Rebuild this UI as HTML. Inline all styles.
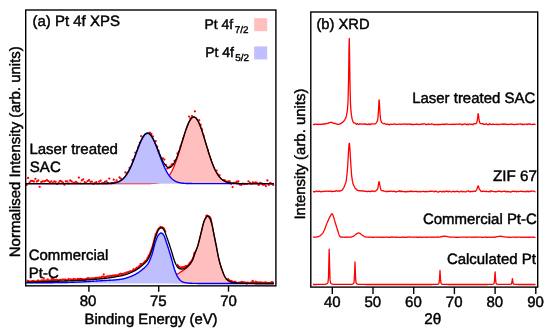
<!DOCTYPE html>
<html><head><meta charset="utf-8"><style>
html,body{margin:0;padding:0;background:#fff;width:550px;height:330px;overflow:hidden}
svg{display:block;will-change:transform}
text{font-family:"Liberation Sans", sans-serif;stroke:#000;stroke-width:0.45px;text-rendering:geometricPrecision}
</style></head><body><svg width="550" height="330" viewBox="0 0 550 330" font-family='"Liberation Sans", sans-serif' font-size="15.2" fill="#000"><g fill="#ff0000"><circle cx="26.7" cy="184.9" r="1.15"/><circle cx="28.1" cy="178.0" r="1.15"/><circle cx="29.6" cy="182.4" r="1.15"/><circle cx="31.0" cy="180.9" r="1.15"/><circle cx="32.5" cy="181.1" r="1.15"/><circle cx="33.9" cy="181.5" r="1.15"/><circle cx="35.4" cy="178.8" r="1.15"/><circle cx="36.8" cy="181.5" r="1.15"/><circle cx="38.3" cy="180.5" r="1.15"/><circle cx="39.7" cy="186.8" r="1.15"/><circle cx="41.2" cy="182.1" r="1.15"/><circle cx="42.6" cy="181.3" r="1.15"/><circle cx="44.1" cy="181.4" r="1.15"/><circle cx="45.5" cy="180.8" r="1.15"/><circle cx="47.0" cy="180.2" r="1.15"/><circle cx="48.4" cy="181.2" r="1.15"/><circle cx="49.9" cy="182.5" r="1.15"/><circle cx="51.3" cy="181.4" r="1.15"/><circle cx="52.8" cy="183.2" r="1.15"/><circle cx="54.2" cy="181.5" r="1.15"/><circle cx="55.7" cy="181.8" r="1.15"/><circle cx="57.1" cy="184.1" r="1.15"/><circle cx="58.6" cy="182.6" r="1.15"/><circle cx="60.0" cy="181.0" r="1.15"/><circle cx="61.5" cy="181.5" r="1.15"/><circle cx="62.9" cy="182.6" r="1.15"/><circle cx="64.4" cy="184.7" r="1.15"/><circle cx="65.8" cy="181.4" r="1.15"/><circle cx="67.3" cy="181.4" r="1.15"/><circle cx="68.7" cy="183.3" r="1.15"/><circle cx="70.2" cy="180.5" r="1.15"/><circle cx="71.6" cy="181.4" r="1.15"/><circle cx="73.1" cy="183.1" r="1.15"/><circle cx="74.5" cy="182.7" r="1.15"/><circle cx="76.0" cy="181.9" r="1.15"/><circle cx="77.4" cy="182.8" r="1.15"/><circle cx="78.9" cy="177.6" r="1.15"/><circle cx="80.3" cy="183.3" r="1.15"/><circle cx="81.8" cy="180.4" r="1.15"/><circle cx="83.2" cy="179.3" r="1.15"/><circle cx="84.7" cy="182.2" r="1.15"/><circle cx="86.1" cy="182.9" r="1.15"/><circle cx="87.6" cy="181.1" r="1.15"/><circle cx="89.0" cy="180.2" r="1.15"/><circle cx="90.5" cy="181.8" r="1.15"/><circle cx="91.9" cy="181.7" r="1.15"/><circle cx="93.4" cy="183.9" r="1.15"/><circle cx="94.8" cy="182.9" r="1.15"/><circle cx="96.3" cy="182.2" r="1.15"/><circle cx="97.7" cy="183.6" r="1.15"/><circle cx="99.2" cy="181.7" r="1.15"/><circle cx="100.6" cy="180.7" r="1.15"/><circle cx="102.1" cy="183.1" r="1.15"/><circle cx="103.5" cy="183.2" r="1.15"/><circle cx="105.0" cy="182.0" r="1.15"/><circle cx="106.4" cy="181.2" r="1.15"/><circle cx="107.9" cy="182.8" r="1.15"/><circle cx="109.3" cy="178.6" r="1.15"/><circle cx="110.8" cy="183.6" r="1.15"/><circle cx="112.2" cy="183.2" r="1.15"/><circle cx="113.7" cy="179.7" r="1.15"/><circle cx="115.1" cy="182.3" r="1.15"/><circle cx="116.6" cy="180.3" r="1.15"/><circle cx="118.0" cy="182.8" r="1.15"/><circle cx="119.5" cy="177.5" r="1.15"/><circle cx="120.9" cy="178.6" r="1.15"/><circle cx="122.4" cy="180.4" r="1.15"/><circle cx="123.8" cy="180.0" r="1.15"/><circle cx="125.3" cy="172.3" r="1.15"/><circle cx="126.7" cy="173.3" r="1.15"/><circle cx="128.2" cy="172.5" r="1.15"/><circle cx="129.6" cy="167.9" r="1.15"/><circle cx="131.1" cy="169.3" r="1.15"/><circle cx="132.5" cy="160.1" r="1.15"/><circle cx="134.0" cy="159.7" r="1.15"/><circle cx="135.4" cy="152.7" r="1.15"/><circle cx="136.9" cy="154.3" r="1.15"/><circle cx="138.3" cy="147.2" r="1.15"/><circle cx="139.8" cy="142.8" r="1.15"/><circle cx="141.2" cy="136.2" r="1.15"/><circle cx="142.7" cy="141.6" r="1.15"/><circle cx="144.1" cy="137.2" r="1.15"/><circle cx="145.6" cy="135.7" r="1.15"/><circle cx="147.0" cy="136.0" r="1.15"/><circle cx="148.5" cy="134.2" r="1.15"/><circle cx="149.9" cy="132.7" r="1.15"/><circle cx="151.4" cy="134.0" r="1.15"/><circle cx="152.8" cy="136.4" r="1.15"/><circle cx="154.3" cy="144.5" r="1.15"/><circle cx="155.7" cy="141.1" r="1.15"/><circle cx="157.2" cy="146.7" r="1.15"/><circle cx="158.6" cy="150.9" r="1.15"/><circle cx="160.1" cy="155.6" r="1.15"/><circle cx="161.5" cy="159.5" r="1.15"/><circle cx="163.0" cy="158.3" r="1.15"/><circle cx="164.4" cy="159.6" r="1.15"/><circle cx="165.9" cy="164.9" r="1.15"/><circle cx="167.3" cy="168.4" r="1.15"/><circle cx="168.8" cy="167.8" r="1.15"/><circle cx="170.2" cy="166.5" r="1.15"/><circle cx="171.7" cy="164.5" r="1.15"/><circle cx="173.1" cy="164.2" r="1.15"/><circle cx="174.6" cy="160.9" r="1.15"/><circle cx="176.0" cy="160.4" r="1.15"/><circle cx="177.5" cy="153.5" r="1.15"/><circle cx="178.9" cy="151.6" r="1.15"/><circle cx="180.4" cy="146.8" r="1.15"/><circle cx="181.8" cy="143.8" r="1.15"/><circle cx="183.3" cy="138.4" r="1.15"/><circle cx="184.7" cy="139.5" r="1.15"/><circle cx="186.2" cy="132.7" r="1.15"/><circle cx="187.6" cy="128.9" r="1.15"/><circle cx="189.1" cy="116.6" r="1.15"/><circle cx="190.5" cy="118.5" r="1.15"/><circle cx="192.0" cy="116.1" r="1.15"/><circle cx="193.4" cy="118.4" r="1.15"/><circle cx="194.9" cy="111.3" r="1.15"/><circle cx="196.3" cy="121.5" r="1.15"/><circle cx="197.8" cy="123.3" r="1.15"/><circle cx="199.2" cy="120.2" r="1.15"/><circle cx="200.7" cy="124.7" r="1.15"/><circle cx="202.1" cy="129.3" r="1.15"/><circle cx="203.6" cy="136.0" r="1.15"/><circle cx="205.0" cy="142.2" r="1.15"/><circle cx="206.5" cy="150.3" r="1.15"/><circle cx="207.9" cy="149.9" r="1.15"/><circle cx="209.4" cy="156.7" r="1.15"/><circle cx="210.8" cy="159.7" r="1.15"/><circle cx="212.3" cy="167.0" r="1.15"/><circle cx="213.7" cy="168.4" r="1.15"/><circle cx="215.2" cy="172.8" r="1.15"/><circle cx="216.6" cy="170.6" r="1.15"/><circle cx="218.1" cy="174.7" r="1.15"/><circle cx="219.5" cy="175.4" r="1.15"/><circle cx="221.0" cy="181.2" r="1.15"/><circle cx="222.4" cy="180.9" r="1.15"/><circle cx="223.9" cy="180.2" r="1.15"/><circle cx="225.3" cy="180.7" r="1.15"/><circle cx="226.8" cy="182.9" r="1.15"/><circle cx="228.2" cy="181.4" r="1.15"/><circle cx="229.7" cy="181.3" r="1.15"/><circle cx="231.1" cy="183.8" r="1.15"/><circle cx="232.6" cy="187.1" r="1.15"/><circle cx="234.0" cy="183.0" r="1.15"/><circle cx="235.5" cy="182.6" r="1.15"/><circle cx="236.9" cy="181.7" r="1.15"/><circle cx="238.4" cy="181.5" r="1.15"/><circle cx="239.8" cy="184.4" r="1.15"/><circle cx="241.3" cy="184.9" r="1.15"/><circle cx="242.7" cy="183.6" r="1.15"/><circle cx="244.2" cy="184.1" r="1.15"/><circle cx="245.6" cy="183.8" r="1.15"/><circle cx="247.1" cy="183.8" r="1.15"/><circle cx="248.5" cy="181.3" r="1.15"/><circle cx="250.0" cy="182.9" r="1.15"/><circle cx="251.4" cy="183.8" r="1.15"/><circle cx="252.9" cy="182.4" r="1.15"/><circle cx="254.3" cy="182.9" r="1.15"/><circle cx="255.8" cy="182.4" r="1.15"/><circle cx="257.2" cy="183.1" r="1.15"/><circle cx="258.7" cy="184.9" r="1.15"/><circle cx="260.1" cy="183.0" r="1.15"/><circle cx="261.6" cy="183.4" r="1.15"/><circle cx="263.0" cy="184.8" r="1.15"/><circle cx="264.5" cy="184.6" r="1.15"/><circle cx="265.9" cy="186.1" r="1.15"/><circle cx="267.4" cy="180.5" r="1.15"/><circle cx="268.8" cy="184.9" r="1.15"/><circle cx="270.3" cy="182.9" r="1.15"/><circle cx="271.7" cy="183.8" r="1.15"/><circle cx="273.2" cy="184.9" r="1.15"/></g><polygon fill="#ffbfbf" points="26.30,183.60 26.71,183.60 27.13,183.60 27.54,183.60 27.95,183.60 28.37,183.60 28.78,183.60 29.19,183.60 29.61,183.60 30.02,183.60 30.43,183.60 30.85,183.60 31.26,183.60 31.67,183.60 32.08,183.60 32.50,183.60 32.91,183.60 33.32,183.60 33.74,183.60 34.15,183.60 34.56,183.60 34.98,183.60 35.39,183.60 35.80,183.60 36.22,183.60 36.63,183.60 37.04,183.60 37.46,183.60 37.87,183.60 38.28,183.60 38.70,183.60 39.11,183.60 39.52,183.60 39.94,183.60 40.35,183.60 40.76,183.60 41.17,183.60 41.59,183.60 42.00,183.60 42.41,183.60 42.83,183.60 43.24,183.60 43.65,183.60 44.07,183.60 44.48,183.60 44.89,183.60 45.31,183.60 45.72,183.60 46.13,183.60 46.55,183.60 46.96,183.60 47.37,183.60 47.79,183.60 48.20,183.60 48.61,183.60 49.03,183.60 49.44,183.60 49.85,183.60 50.26,183.60 50.68,183.60 51.09,183.60 51.50,183.60 51.92,183.60 52.33,183.60 52.74,183.60 53.16,183.60 53.57,183.60 53.98,183.60 54.40,183.60 54.81,183.60 55.22,183.60 55.64,183.60 56.05,183.60 56.46,183.60 56.88,183.60 57.29,183.60 57.70,183.60 58.12,183.60 58.53,183.60 58.94,183.60 59.36,183.60 59.77,183.60 60.18,183.60 60.59,183.60 61.01,183.60 61.42,183.60 61.83,183.60 62.25,183.60 62.66,183.60 63.07,183.60 63.49,183.60 63.90,183.60 64.31,183.60 64.73,183.60 65.14,183.60 65.55,183.60 65.97,183.60 66.38,183.60 66.79,183.60 67.21,183.60 67.62,183.60 68.03,183.60 68.45,183.60 68.86,183.60 69.27,183.60 69.68,183.60 70.10,183.60 70.51,183.60 70.92,183.60 71.34,183.60 71.75,183.60 72.16,183.60 72.58,183.60 72.99,183.60 73.40,183.60 73.82,183.60 74.23,183.60 74.64,183.60 75.06,183.60 75.47,183.60 75.88,183.60 76.30,183.60 76.71,183.60 77.12,183.60 77.54,183.60 77.95,183.60 78.36,183.60 78.77,183.60 79.19,183.60 79.60,183.60 80.01,183.60 80.43,183.60 80.84,183.60 81.25,183.60 81.67,183.60 82.08,183.60 82.49,183.60 82.91,183.60 83.32,183.60 83.73,183.60 84.15,183.60 84.56,183.60 84.97,183.60 85.39,183.60 85.80,183.60 86.21,183.60 86.63,183.60 87.04,183.60 87.45,183.60 87.87,183.60 88.28,183.60 88.69,183.60 89.10,183.60 89.52,183.60 89.93,183.60 90.34,183.60 90.76,183.60 91.17,183.60 91.58,183.60 92.00,183.60 92.41,183.60 92.82,183.60 93.24,183.60 93.65,183.60 94.06,183.60 94.48,183.60 94.89,183.60 95.30,183.60 95.72,183.60 96.13,183.60 96.54,183.60 96.96,183.60 97.37,183.60 97.78,183.60 98.19,183.60 98.61,183.60 99.02,183.60 99.43,183.60 99.85,183.60 100.26,183.60 100.67,183.60 101.09,183.60 101.50,183.60 101.91,183.60 102.33,183.60 102.74,183.60 103.15,183.60 103.57,183.60 103.98,183.60 104.39,183.60 104.81,183.60 105.22,183.60 105.63,183.60 106.05,183.60 106.46,183.60 106.87,183.60 107.28,183.60 107.70,183.60 108.11,183.60 108.52,183.60 108.94,183.60 109.35,183.60 109.76,183.60 110.18,183.60 110.59,183.60 111.00,183.60 111.42,183.60 111.83,183.60 112.24,183.60 112.66,183.60 113.07,183.60 113.48,183.60 113.90,183.60 114.31,183.60 114.72,183.60 115.14,183.60 115.55,183.60 115.96,183.60 116.38,183.60 116.79,183.60 117.20,183.60 117.61,183.60 118.03,183.60 118.44,183.60 118.85,183.60 119.27,183.60 119.68,183.60 120.09,183.60 120.51,183.60 120.92,183.60 121.33,183.60 121.75,183.60 122.16,183.60 122.57,183.60 122.99,183.60 123.40,183.60 123.81,183.60 124.23,183.60 124.64,183.60 125.05,183.60 125.47,183.60 125.88,183.60 126.29,183.60 126.70,183.60 127.12,183.60 127.53,183.60 127.94,183.60 128.36,183.60 128.77,183.60 129.18,183.60 129.60,183.60 130.01,183.60 130.42,183.60 130.84,183.60 131.25,183.60 131.66,183.60 132.08,183.60 132.49,183.60 132.90,183.60 133.32,183.60 133.73,183.60 134.14,183.60 134.56,183.60 134.97,183.60 135.38,183.60 135.79,183.60 136.21,183.60 136.62,183.60 137.03,183.60 137.45,183.60 137.86,183.60 138.27,183.60 138.69,183.60 139.10,183.60 139.51,183.60 139.93,183.60 140.34,183.60 140.75,183.60 141.17,183.60 141.58,183.59 141.99,183.59 142.41,183.59 142.82,183.59 143.23,183.59 143.65,183.59 144.06,183.59 144.47,183.59 144.89,183.58 145.30,183.58 145.71,183.58 146.12,183.58 146.54,183.57 146.95,183.57 147.36,183.56 147.78,183.56 148.19,183.55 148.60,183.54 149.02,183.54 149.43,183.53 149.84,183.52 150.26,183.51 150.67,183.50 151.08,183.48 151.50,183.47 151.91,183.45 152.32,183.43 152.74,183.41 153.15,183.39 153.56,183.36 153.98,183.33 154.39,183.30 154.80,183.26 155.21,183.22 155.63,183.18 156.04,183.13 156.45,183.07 156.87,183.02 157.28,182.95 157.69,182.88 158.11,182.80 158.52,182.72 158.93,182.62 159.35,182.52 159.76,182.41 160.17,182.29 160.59,182.15 161.00,182.01 161.41,181.86 161.83,181.69 162.24,181.50 162.65,181.31 163.07,181.09 163.48,180.86 163.89,180.62 164.31,180.35 164.72,180.07 165.13,179.76 165.54,179.44 165.96,179.09 166.37,178.71 166.78,178.32 167.20,177.89 167.61,177.45 168.02,176.97 168.44,176.46 168.85,175.93 169.26,175.37 169.68,174.77 170.09,174.14 170.50,173.48 170.92,172.79 171.33,172.06 171.74,171.30 172.16,170.51 172.57,169.68 172.98,168.81 173.40,167.91 173.81,166.97 174.22,166.00 174.63,165.00 175.05,163.96 175.46,162.88 175.87,161.78 176.29,160.64 176.70,159.47 177.11,158.27 177.53,157.04 177.94,155.79 178.35,154.51 178.77,153.21 179.18,151.89 179.59,150.55 180.01,149.20 180.42,147.83 180.83,146.45 181.25,145.07 181.66,143.68 182.07,142.29 182.49,140.90 182.90,139.52 183.31,138.14 183.72,136.78 184.14,135.44 184.55,134.11 184.96,132.81 185.38,131.54 185.79,130.30 186.20,129.09 186.62,127.92 187.03,126.80 187.44,125.72 187.86,124.69 188.27,123.71 188.68,122.79 189.10,121.92 189.51,121.12 189.92,120.39 190.34,119.72 190.75,119.12 191.16,118.59 191.58,118.13 191.99,117.75 192.40,117.45 192.82,117.22 193.23,117.08 193.64,117.01 194.05,117.01 194.47,117.10 194.88,117.27 195.29,117.51 195.71,117.84 196.12,118.23 196.53,118.71 196.95,119.25 197.36,119.87 197.77,120.55 198.19,121.30 198.60,122.12 199.01,123.00 199.43,123.93 199.84,124.92 200.25,125.96 200.67,127.06 201.08,128.19 201.49,129.37 201.91,130.58 202.32,131.83 202.73,133.11 203.14,134.42 203.56,135.75 203.97,137.10 204.38,138.46 204.80,139.84 205.21,141.22 205.62,142.61 206.04,144.00 206.45,145.39 206.86,146.78 207.28,148.15 207.69,149.52 208.10,150.87 208.52,152.20 208.93,153.52 209.34,154.81 209.76,156.09 210.17,157.33 210.58,158.55 211.00,159.74 211.41,160.91 211.82,162.04 212.23,163.14 212.65,164.20 213.06,165.23 213.47,166.23 213.89,167.19 214.30,168.12 214.71,169.02 215.13,169.87 215.54,170.70 215.95,171.48 216.37,172.24 216.78,172.95 217.19,173.64 217.61,174.29 218.02,174.91 218.43,175.50 218.85,176.06 219.26,176.58 219.67,177.08 220.09,177.55 220.50,178.00 220.91,178.41 221.33,178.80 221.74,179.17 222.15,179.51 222.56,179.83 222.98,180.14 223.39,180.42 223.80,180.68 224.22,180.92 224.63,181.14 225.04,181.35 225.46,181.55 225.87,181.73 226.28,181.89 226.70,182.05 227.11,182.19 227.52,182.32 227.94,182.44 228.35,182.54 228.76,182.64 229.18,182.74 229.59,182.82 230.00,182.90 230.42,182.97 230.83,183.03 231.24,183.09 231.65,183.14 232.07,183.19 232.48,183.23 232.89,183.27 233.31,183.31 233.72,183.34 234.13,183.37 234.55,183.39 234.96,183.41 235.37,183.44 235.79,183.45 236.20,183.47 236.61,183.49 237.03,183.50 237.44,183.51 237.85,183.52 238.27,183.53 238.68,183.54 239.09,183.55 239.51,183.55 239.92,183.56 240.33,183.56 240.74,183.57 241.16,183.57 241.57,183.58 241.98,183.58 242.40,183.58 242.81,183.58 243.22,183.59 243.64,183.59 244.05,183.59 244.46,183.59 244.88,183.59 245.29,183.59 245.70,183.59 246.12,183.60 246.53,183.60 246.94,183.60 247.36,183.60 247.77,183.60 248.18,183.60 248.60,183.60 249.01,183.60 249.42,183.60 249.84,183.60 250.25,183.60 250.66,183.60 251.07,183.60 251.49,183.60 251.90,183.60 252.31,183.60 252.73,183.60 253.14,183.60 253.55,183.60 253.97,183.60 254.38,183.60 254.79,183.60 255.21,183.60 255.62,183.60 256.03,183.60 256.45,183.60 256.86,183.60 257.27,183.60 257.69,183.60 258.10,183.60 258.51,183.60 258.93,183.60 259.34,183.60 259.75,183.60 260.16,183.60 260.58,183.60 260.99,183.60 261.40,183.60 261.82,183.60 262.23,183.60 262.64,183.60 263.06,183.60 263.47,183.60 263.88,183.60 264.30,183.60 264.71,183.60 265.12,183.60 265.54,183.60 265.95,183.60 266.36,183.60 266.78,183.60 267.19,183.60 267.60,183.60 268.02,183.60 268.43,183.60 268.84,183.60 269.25,183.60 269.67,183.60 270.08,183.60 270.49,183.60 270.91,183.60 271.32,183.60 271.73,183.60 272.15,183.60 272.56,183.60 272.97,183.60 273.39,183.60 273.80,183.60 273.80,183.60 26.30,183.60"/><polyline fill="none" stroke="#ff0000" stroke-width="1.3" points="26.30,183.60 26.71,183.60 27.13,183.60 27.54,183.60 27.95,183.60 28.37,183.60 28.78,183.60 29.19,183.60 29.61,183.60 30.02,183.60 30.43,183.60 30.85,183.60 31.26,183.60 31.67,183.60 32.08,183.60 32.50,183.60 32.91,183.60 33.32,183.60 33.74,183.60 34.15,183.60 34.56,183.60 34.98,183.60 35.39,183.60 35.80,183.60 36.22,183.60 36.63,183.60 37.04,183.60 37.46,183.60 37.87,183.60 38.28,183.60 38.70,183.60 39.11,183.60 39.52,183.60 39.94,183.60 40.35,183.60 40.76,183.60 41.17,183.60 41.59,183.60 42.00,183.60 42.41,183.60 42.83,183.60 43.24,183.60 43.65,183.60 44.07,183.60 44.48,183.60 44.89,183.60 45.31,183.60 45.72,183.60 46.13,183.60 46.55,183.60 46.96,183.60 47.37,183.60 47.79,183.60 48.20,183.60 48.61,183.60 49.03,183.60 49.44,183.60 49.85,183.60 50.26,183.60 50.68,183.60 51.09,183.60 51.50,183.60 51.92,183.60 52.33,183.60 52.74,183.60 53.16,183.60 53.57,183.60 53.98,183.60 54.40,183.60 54.81,183.60 55.22,183.60 55.64,183.60 56.05,183.60 56.46,183.60 56.88,183.60 57.29,183.60 57.70,183.60 58.12,183.60 58.53,183.60 58.94,183.60 59.36,183.60 59.77,183.60 60.18,183.60 60.59,183.60 61.01,183.60 61.42,183.60 61.83,183.60 62.25,183.60 62.66,183.60 63.07,183.60 63.49,183.60 63.90,183.60 64.31,183.60 64.73,183.60 65.14,183.60 65.55,183.60 65.97,183.60 66.38,183.60 66.79,183.60 67.21,183.60 67.62,183.60 68.03,183.60 68.45,183.60 68.86,183.60 69.27,183.60 69.68,183.60 70.10,183.60 70.51,183.60 70.92,183.60 71.34,183.60 71.75,183.60 72.16,183.60 72.58,183.60 72.99,183.60 73.40,183.60 73.82,183.60 74.23,183.60 74.64,183.60 75.06,183.60 75.47,183.60 75.88,183.60 76.30,183.60 76.71,183.60 77.12,183.60 77.54,183.60 77.95,183.60 78.36,183.60 78.77,183.60 79.19,183.60 79.60,183.60 80.01,183.60 80.43,183.60 80.84,183.60 81.25,183.60 81.67,183.60 82.08,183.60 82.49,183.60 82.91,183.60 83.32,183.60 83.73,183.60 84.15,183.60 84.56,183.60 84.97,183.60 85.39,183.60 85.80,183.60 86.21,183.60 86.63,183.60 87.04,183.60 87.45,183.60 87.87,183.60 88.28,183.60 88.69,183.60 89.10,183.60 89.52,183.60 89.93,183.60 90.34,183.60 90.76,183.60 91.17,183.60 91.58,183.60 92.00,183.60 92.41,183.60 92.82,183.60 93.24,183.60 93.65,183.60 94.06,183.60 94.48,183.60 94.89,183.60 95.30,183.60 95.72,183.60 96.13,183.60 96.54,183.60 96.96,183.60 97.37,183.60 97.78,183.60 98.19,183.60 98.61,183.60 99.02,183.60 99.43,183.60 99.85,183.60 100.26,183.60 100.67,183.60 101.09,183.60 101.50,183.60 101.91,183.60 102.33,183.60 102.74,183.60 103.15,183.60 103.57,183.60 103.98,183.60 104.39,183.60 104.81,183.60 105.22,183.60 105.63,183.60 106.05,183.60 106.46,183.60 106.87,183.60 107.28,183.60 107.70,183.60 108.11,183.60 108.52,183.60 108.94,183.60 109.35,183.60 109.76,183.60 110.18,183.60 110.59,183.60 111.00,183.60 111.42,183.60 111.83,183.60 112.24,183.60 112.66,183.60 113.07,183.60 113.48,183.60 113.90,183.60 114.31,183.60 114.72,183.60 115.14,183.60 115.55,183.60 115.96,183.60 116.38,183.60 116.79,183.60 117.20,183.60 117.61,183.60 118.03,183.60 118.44,183.60 118.85,183.60 119.27,183.60 119.68,183.60 120.09,183.60 120.51,183.60 120.92,183.60 121.33,183.60 121.75,183.60 122.16,183.60 122.57,183.60 122.99,183.60 123.40,183.60 123.81,183.60 124.23,183.60 124.64,183.60 125.05,183.60 125.47,183.60 125.88,183.60 126.29,183.60 126.70,183.60 127.12,183.60 127.53,183.60 127.94,183.60 128.36,183.60 128.77,183.60 129.18,183.60 129.60,183.60 130.01,183.60 130.42,183.60 130.84,183.60 131.25,183.60 131.66,183.60 132.08,183.60 132.49,183.60 132.90,183.60 133.32,183.60 133.73,183.60 134.14,183.60 134.56,183.60 134.97,183.60 135.38,183.60 135.79,183.60 136.21,183.60 136.62,183.60 137.03,183.60 137.45,183.60 137.86,183.60 138.27,183.60 138.69,183.60 139.10,183.60 139.51,183.60 139.93,183.60 140.34,183.60 140.75,183.60 141.17,183.60 141.58,183.59 141.99,183.59 142.41,183.59 142.82,183.59 143.23,183.59 143.65,183.59 144.06,183.59 144.47,183.59 144.89,183.58 145.30,183.58 145.71,183.58 146.12,183.58 146.54,183.57 146.95,183.57 147.36,183.56 147.78,183.56 148.19,183.55 148.60,183.54 149.02,183.54 149.43,183.53 149.84,183.52 150.26,183.51 150.67,183.50 151.08,183.48 151.50,183.47 151.91,183.45 152.32,183.43 152.74,183.41 153.15,183.39 153.56,183.36 153.98,183.33 154.39,183.30 154.80,183.26 155.21,183.22 155.63,183.18 156.04,183.13 156.45,183.07 156.87,183.02 157.28,182.95 157.69,182.88 158.11,182.80 158.52,182.72 158.93,182.62 159.35,182.52 159.76,182.41 160.17,182.29 160.59,182.15 161.00,182.01 161.41,181.86 161.83,181.69 162.24,181.50 162.65,181.31 163.07,181.09 163.48,180.86 163.89,180.62 164.31,180.35 164.72,180.07 165.13,179.76 165.54,179.44 165.96,179.09 166.37,178.71 166.78,178.32 167.20,177.89 167.61,177.45 168.02,176.97 168.44,176.46 168.85,175.93 169.26,175.37 169.68,174.77 170.09,174.14 170.50,173.48 170.92,172.79 171.33,172.06 171.74,171.30 172.16,170.51 172.57,169.68 172.98,168.81 173.40,167.91 173.81,166.97 174.22,166.00 174.63,165.00 175.05,163.96 175.46,162.88 175.87,161.78 176.29,160.64 176.70,159.47 177.11,158.27 177.53,157.04 177.94,155.79 178.35,154.51 178.77,153.21 179.18,151.89 179.59,150.55 180.01,149.20 180.42,147.83 180.83,146.45 181.25,145.07 181.66,143.68 182.07,142.29 182.49,140.90 182.90,139.52 183.31,138.14 183.72,136.78 184.14,135.44 184.55,134.11 184.96,132.81 185.38,131.54 185.79,130.30 186.20,129.09 186.62,127.92 187.03,126.80 187.44,125.72 187.86,124.69 188.27,123.71 188.68,122.79 189.10,121.92 189.51,121.12 189.92,120.39 190.34,119.72 190.75,119.12 191.16,118.59 191.58,118.13 191.99,117.75 192.40,117.45 192.82,117.22 193.23,117.08 193.64,117.01 194.05,117.01 194.47,117.10 194.88,117.27 195.29,117.51 195.71,117.84 196.12,118.23 196.53,118.71 196.95,119.25 197.36,119.87 197.77,120.55 198.19,121.30 198.60,122.12 199.01,123.00 199.43,123.93 199.84,124.92 200.25,125.96 200.67,127.06 201.08,128.19 201.49,129.37 201.91,130.58 202.32,131.83 202.73,133.11 203.14,134.42 203.56,135.75 203.97,137.10 204.38,138.46 204.80,139.84 205.21,141.22 205.62,142.61 206.04,144.00 206.45,145.39 206.86,146.78 207.28,148.15 207.69,149.52 208.10,150.87 208.52,152.20 208.93,153.52 209.34,154.81 209.76,156.09 210.17,157.33 210.58,158.55 211.00,159.74 211.41,160.91 211.82,162.04 212.23,163.14 212.65,164.20 213.06,165.23 213.47,166.23 213.89,167.19 214.30,168.12 214.71,169.02 215.13,169.87 215.54,170.70 215.95,171.48 216.37,172.24 216.78,172.95 217.19,173.64 217.61,174.29 218.02,174.91 218.43,175.50 218.85,176.06 219.26,176.58 219.67,177.08 220.09,177.55 220.50,178.00 220.91,178.41 221.33,178.80 221.74,179.17 222.15,179.51 222.56,179.83 222.98,180.14 223.39,180.42 223.80,180.68 224.22,180.92 224.63,181.14 225.04,181.35 225.46,181.55 225.87,181.73 226.28,181.89 226.70,182.05 227.11,182.19 227.52,182.32 227.94,182.44 228.35,182.54 228.76,182.64 229.18,182.74 229.59,182.82 230.00,182.90 230.42,182.97 230.83,183.03 231.24,183.09 231.65,183.14 232.07,183.19 232.48,183.23 232.89,183.27 233.31,183.31 233.72,183.34 234.13,183.37 234.55,183.39 234.96,183.41 235.37,183.44 235.79,183.45 236.20,183.47 236.61,183.49 237.03,183.50 237.44,183.51 237.85,183.52 238.27,183.53 238.68,183.54 239.09,183.55 239.51,183.55 239.92,183.56 240.33,183.56 240.74,183.57 241.16,183.57 241.57,183.58 241.98,183.58 242.40,183.58 242.81,183.58 243.22,183.59 243.64,183.59 244.05,183.59 244.46,183.59 244.88,183.59 245.29,183.59 245.70,183.59 246.12,183.60 246.53,183.60 246.94,183.60 247.36,183.60 247.77,183.60 248.18,183.60 248.60,183.60 249.01,183.60 249.42,183.60 249.84,183.60 250.25,183.60 250.66,183.60 251.07,183.60 251.49,183.60 251.90,183.60 252.31,183.60 252.73,183.60 253.14,183.60 253.55,183.60 253.97,183.60 254.38,183.60 254.79,183.60 255.21,183.60 255.62,183.60 256.03,183.60 256.45,183.60 256.86,183.60 257.27,183.60 257.69,183.60 258.10,183.60 258.51,183.60 258.93,183.60 259.34,183.60 259.75,183.60 260.16,183.60 260.58,183.60 260.99,183.60 261.40,183.60 261.82,183.60 262.23,183.60 262.64,183.60 263.06,183.60 263.47,183.60 263.88,183.60 264.30,183.60 264.71,183.60 265.12,183.60 265.54,183.60 265.95,183.60 266.36,183.60 266.78,183.60 267.19,183.60 267.60,183.60 268.02,183.60 268.43,183.60 268.84,183.60 269.25,183.60 269.67,183.60 270.08,183.60 270.49,183.60 270.91,183.60 271.32,183.60 271.73,183.60 272.15,183.60 272.56,183.60 272.97,183.60 273.39,183.60 273.80,183.60"/><polygon fill="#bfbfff" points="26.30,183.60 26.71,183.60 27.13,183.60 27.54,183.60 27.95,183.60 28.37,183.60 28.78,183.60 29.19,183.60 29.61,183.60 30.02,183.60 30.43,183.60 30.85,183.60 31.26,183.60 31.67,183.60 32.08,183.60 32.50,183.60 32.91,183.60 33.32,183.60 33.74,183.60 34.15,183.60 34.56,183.60 34.98,183.60 35.39,183.60 35.80,183.60 36.22,183.60 36.63,183.60 37.04,183.60 37.46,183.60 37.87,183.60 38.28,183.60 38.70,183.60 39.11,183.60 39.52,183.60 39.94,183.60 40.35,183.60 40.76,183.60 41.17,183.60 41.59,183.60 42.00,183.60 42.41,183.60 42.83,183.60 43.24,183.60 43.65,183.60 44.07,183.60 44.48,183.60 44.89,183.60 45.31,183.60 45.72,183.60 46.13,183.60 46.55,183.60 46.96,183.60 47.37,183.60 47.79,183.60 48.20,183.60 48.61,183.60 49.03,183.60 49.44,183.60 49.85,183.60 50.26,183.60 50.68,183.60 51.09,183.60 51.50,183.60 51.92,183.60 52.33,183.60 52.74,183.60 53.16,183.60 53.57,183.60 53.98,183.60 54.40,183.60 54.81,183.60 55.22,183.60 55.64,183.60 56.05,183.60 56.46,183.60 56.88,183.60 57.29,183.60 57.70,183.60 58.12,183.60 58.53,183.60 58.94,183.60 59.36,183.60 59.77,183.60 60.18,183.60 60.59,183.60 61.01,183.60 61.42,183.60 61.83,183.60 62.25,183.60 62.66,183.60 63.07,183.60 63.49,183.60 63.90,183.60 64.31,183.60 64.73,183.60 65.14,183.60 65.55,183.60 65.97,183.60 66.38,183.60 66.79,183.60 67.21,183.60 67.62,183.60 68.03,183.60 68.45,183.60 68.86,183.60 69.27,183.60 69.68,183.60 70.10,183.60 70.51,183.60 70.92,183.60 71.34,183.60 71.75,183.60 72.16,183.60 72.58,183.60 72.99,183.60 73.40,183.60 73.82,183.60 74.23,183.60 74.64,183.60 75.06,183.60 75.47,183.60 75.88,183.60 76.30,183.60 76.71,183.60 77.12,183.60 77.54,183.60 77.95,183.60 78.36,183.60 78.77,183.60 79.19,183.60 79.60,183.60 80.01,183.60 80.43,183.60 80.84,183.60 81.25,183.60 81.67,183.60 82.08,183.60 82.49,183.60 82.91,183.60 83.32,183.60 83.73,183.60 84.15,183.60 84.56,183.60 84.97,183.60 85.39,183.60 85.80,183.60 86.21,183.60 86.63,183.60 87.04,183.60 87.45,183.60 87.87,183.60 88.28,183.60 88.69,183.60 89.10,183.60 89.52,183.60 89.93,183.60 90.34,183.60 90.76,183.60 91.17,183.60 91.58,183.60 92.00,183.60 92.41,183.60 92.82,183.60 93.24,183.60 93.65,183.60 94.06,183.60 94.48,183.60 94.89,183.60 95.30,183.60 95.72,183.60 96.13,183.60 96.54,183.60 96.96,183.60 97.37,183.60 97.78,183.60 98.19,183.60 98.61,183.60 99.02,183.59 99.43,183.59 99.85,183.59 100.26,183.59 100.67,183.59 101.09,183.59 101.50,183.59 101.91,183.59 102.33,183.58 102.74,183.58 103.15,183.58 103.57,183.57 103.98,183.57 104.39,183.57 104.81,183.56 105.22,183.55 105.63,183.55 106.05,183.54 106.46,183.53 106.87,183.52 107.28,183.51 107.70,183.50 108.11,183.48 108.52,183.47 108.94,183.45 109.35,183.43 109.76,183.41 110.18,183.38 110.59,183.36 111.00,183.33 111.42,183.29 111.83,183.25 112.24,183.21 112.66,183.17 113.07,183.11 113.48,183.06 113.90,182.99 114.31,182.93 114.72,182.85 115.14,182.77 115.55,182.67 115.96,182.57 116.38,182.47 116.79,182.35 117.20,182.22 117.61,182.07 118.03,181.92 118.44,181.75 118.85,181.57 119.27,181.38 119.68,181.17 120.09,180.94 120.51,180.69 120.92,180.43 121.33,180.15 121.75,179.85 122.16,179.52 122.57,179.18 122.99,178.81 123.40,178.42 123.81,178.00 124.23,177.56 124.64,177.09 125.05,176.59 125.47,176.07 125.88,175.52 126.29,174.94 126.70,174.33 127.12,173.69 127.53,173.02 127.94,172.33 128.36,171.60 128.77,170.84 129.18,170.05 129.60,169.23 130.01,168.39 130.42,167.51 130.84,166.61 131.25,165.68 131.66,164.72 132.08,163.74 132.49,162.74 132.90,161.72 133.32,160.68 133.73,159.62 134.14,158.54 134.56,157.45 134.97,156.35 135.38,155.24 135.79,154.13 136.21,153.01 136.62,151.89 137.03,150.78 137.45,149.67 137.86,148.57 138.27,147.49 138.69,146.42 139.10,145.37 139.51,144.34 139.93,143.34 140.34,142.37 140.75,141.43 141.17,140.53 141.58,139.66 141.99,138.84 142.41,138.07 142.82,137.34 143.23,136.67 143.65,136.05 144.06,135.48 144.47,134.98 144.89,134.53 145.30,134.15 145.71,133.83 146.12,133.57 146.54,133.38 146.95,133.26 147.36,133.20 147.78,133.22 148.19,133.29 148.60,133.44 149.02,133.65 149.43,133.93 149.84,134.27 150.26,134.68 150.67,135.14 151.08,135.67 151.50,136.26 151.91,136.89 152.32,137.59 152.74,138.33 153.15,139.12 153.56,139.95 153.98,140.83 154.39,141.75 154.80,142.70 155.21,143.68 155.63,144.69 156.04,145.72 156.45,146.78 156.87,147.86 157.28,148.95 157.69,150.05 158.11,151.16 158.52,152.27 158.93,153.39 159.35,154.51 159.76,155.62 160.17,156.73 160.59,157.82 161.00,158.91 161.41,159.98 161.83,161.04 162.24,162.07 162.65,163.09 163.07,164.08 163.48,165.05 163.89,166.00 164.31,166.92 164.72,167.81 165.13,168.68 165.54,169.52 165.96,170.32 166.37,171.10 166.78,171.85 167.20,172.57 167.61,173.26 168.02,173.91 168.44,174.54 168.85,175.14 169.26,175.71 169.68,176.25 170.09,176.77 170.50,177.25 170.92,177.71 171.33,178.15 171.74,178.55 172.16,178.94 172.57,179.30 172.98,179.64 173.40,179.95 173.81,180.25 174.22,180.52 174.63,180.78 175.05,181.02 175.46,181.24 175.87,181.45 176.29,181.64 176.70,181.81 177.11,181.97 177.53,182.12 177.94,182.26 178.35,182.39 178.77,182.50 179.18,182.61 179.59,182.71 180.01,182.80 180.42,182.88 180.83,182.95 181.25,183.02 181.66,183.08 182.07,183.13 182.49,183.18 182.90,183.23 183.31,183.27 183.72,183.30 184.14,183.34 184.55,183.37 184.96,183.39 185.38,183.42 185.79,183.44 186.20,183.46 186.62,183.47 187.03,183.49 187.44,183.50 187.86,183.51 188.27,183.52 188.68,183.53 189.10,183.54 189.51,183.55 189.92,183.56 190.34,183.56 190.75,183.57 191.16,183.57 191.58,183.57 191.99,183.58 192.40,183.58 192.82,183.58 193.23,183.59 193.64,183.59 194.05,183.59 194.47,183.59 194.88,183.59 195.29,183.59 195.71,183.59 196.12,183.60 196.53,183.60 196.95,183.60 197.36,183.60 197.77,183.60 198.19,183.60 198.60,183.60 199.01,183.60 199.43,183.60 199.84,183.60 200.25,183.60 200.67,183.60 201.08,183.60 201.49,183.60 201.91,183.60 202.32,183.60 202.73,183.60 203.14,183.60 203.56,183.60 203.97,183.60 204.38,183.60 204.80,183.60 205.21,183.60 205.62,183.60 206.04,183.60 206.45,183.60 206.86,183.60 207.28,183.60 207.69,183.60 208.10,183.60 208.52,183.60 208.93,183.60 209.34,183.60 209.76,183.60 210.17,183.60 210.58,183.60 211.00,183.60 211.41,183.60 211.82,183.60 212.23,183.60 212.65,183.60 213.06,183.60 213.47,183.60 213.89,183.60 214.30,183.60 214.71,183.60 215.13,183.60 215.54,183.60 215.95,183.60 216.37,183.60 216.78,183.60 217.19,183.60 217.61,183.60 218.02,183.60 218.43,183.60 218.85,183.60 219.26,183.60 219.67,183.60 220.09,183.60 220.50,183.60 220.91,183.60 221.33,183.60 221.74,183.60 222.15,183.60 222.56,183.60 222.98,183.60 223.39,183.60 223.80,183.60 224.22,183.60 224.63,183.60 225.04,183.60 225.46,183.60 225.87,183.60 226.28,183.60 226.70,183.60 227.11,183.60 227.52,183.60 227.94,183.60 228.35,183.60 228.76,183.60 229.18,183.60 229.59,183.60 230.00,183.60 230.42,183.60 230.83,183.60 231.24,183.60 231.65,183.60 232.07,183.60 232.48,183.60 232.89,183.60 233.31,183.60 233.72,183.60 234.13,183.60 234.55,183.60 234.96,183.60 235.37,183.60 235.79,183.60 236.20,183.60 236.61,183.60 237.03,183.60 237.44,183.60 237.85,183.60 238.27,183.60 238.68,183.60 239.09,183.60 239.51,183.60 239.92,183.60 240.33,183.60 240.74,183.60 241.16,183.60 241.57,183.60 241.98,183.60 242.40,183.60 242.81,183.60 243.22,183.60 243.64,183.60 244.05,183.60 244.46,183.60 244.88,183.60 245.29,183.60 245.70,183.60 246.12,183.60 246.53,183.60 246.94,183.60 247.36,183.60 247.77,183.60 248.18,183.60 248.60,183.60 249.01,183.60 249.42,183.60 249.84,183.60 250.25,183.60 250.66,183.60 251.07,183.60 251.49,183.60 251.90,183.60 252.31,183.60 252.73,183.60 253.14,183.60 253.55,183.60 253.97,183.60 254.38,183.60 254.79,183.60 255.21,183.60 255.62,183.60 256.03,183.60 256.45,183.60 256.86,183.60 257.27,183.60 257.69,183.60 258.10,183.60 258.51,183.60 258.93,183.60 259.34,183.60 259.75,183.60 260.16,183.60 260.58,183.60 260.99,183.60 261.40,183.60 261.82,183.60 262.23,183.60 262.64,183.60 263.06,183.60 263.47,183.60 263.88,183.60 264.30,183.60 264.71,183.60 265.12,183.60 265.54,183.60 265.95,183.60 266.36,183.60 266.78,183.60 267.19,183.60 267.60,183.60 268.02,183.60 268.43,183.60 268.84,183.60 269.25,183.60 269.67,183.60 270.08,183.60 270.49,183.60 270.91,183.60 271.32,183.60 271.73,183.60 272.15,183.60 272.56,183.60 272.97,183.60 273.39,183.60 273.80,183.60 273.80,183.60 26.30,183.60"/><polyline fill="none" stroke="#0000ff" stroke-width="1.4" points="26.30,183.60 26.71,183.60 27.13,183.60 27.54,183.60 27.95,183.60 28.37,183.60 28.78,183.60 29.19,183.60 29.61,183.60 30.02,183.60 30.43,183.60 30.85,183.60 31.26,183.60 31.67,183.60 32.08,183.60 32.50,183.60 32.91,183.60 33.32,183.60 33.74,183.60 34.15,183.60 34.56,183.60 34.98,183.60 35.39,183.60 35.80,183.60 36.22,183.60 36.63,183.60 37.04,183.60 37.46,183.60 37.87,183.60 38.28,183.60 38.70,183.60 39.11,183.60 39.52,183.60 39.94,183.60 40.35,183.60 40.76,183.60 41.17,183.60 41.59,183.60 42.00,183.60 42.41,183.60 42.83,183.60 43.24,183.60 43.65,183.60 44.07,183.60 44.48,183.60 44.89,183.60 45.31,183.60 45.72,183.60 46.13,183.60 46.55,183.60 46.96,183.60 47.37,183.60 47.79,183.60 48.20,183.60 48.61,183.60 49.03,183.60 49.44,183.60 49.85,183.60 50.26,183.60 50.68,183.60 51.09,183.60 51.50,183.60 51.92,183.60 52.33,183.60 52.74,183.60 53.16,183.60 53.57,183.60 53.98,183.60 54.40,183.60 54.81,183.60 55.22,183.60 55.64,183.60 56.05,183.60 56.46,183.60 56.88,183.60 57.29,183.60 57.70,183.60 58.12,183.60 58.53,183.60 58.94,183.60 59.36,183.60 59.77,183.60 60.18,183.60 60.59,183.60 61.01,183.60 61.42,183.60 61.83,183.60 62.25,183.60 62.66,183.60 63.07,183.60 63.49,183.60 63.90,183.60 64.31,183.60 64.73,183.60 65.14,183.60 65.55,183.60 65.97,183.60 66.38,183.60 66.79,183.60 67.21,183.60 67.62,183.60 68.03,183.60 68.45,183.60 68.86,183.60 69.27,183.60 69.68,183.60 70.10,183.60 70.51,183.60 70.92,183.60 71.34,183.60 71.75,183.60 72.16,183.60 72.58,183.60 72.99,183.60 73.40,183.60 73.82,183.60 74.23,183.60 74.64,183.60 75.06,183.60 75.47,183.60 75.88,183.60 76.30,183.60 76.71,183.60 77.12,183.60 77.54,183.60 77.95,183.60 78.36,183.60 78.77,183.60 79.19,183.60 79.60,183.60 80.01,183.60 80.43,183.60 80.84,183.60 81.25,183.60 81.67,183.60 82.08,183.60 82.49,183.60 82.91,183.60 83.32,183.60 83.73,183.60 84.15,183.60 84.56,183.60 84.97,183.60 85.39,183.60 85.80,183.60 86.21,183.60 86.63,183.60 87.04,183.60 87.45,183.60 87.87,183.60 88.28,183.60 88.69,183.60 89.10,183.60 89.52,183.60 89.93,183.60 90.34,183.60 90.76,183.60 91.17,183.60 91.58,183.60 92.00,183.60 92.41,183.60 92.82,183.60 93.24,183.60 93.65,183.60 94.06,183.60 94.48,183.60 94.89,183.60 95.30,183.60 95.72,183.60 96.13,183.60 96.54,183.60 96.96,183.60 97.37,183.60 97.78,183.60 98.19,183.60 98.61,183.60 99.02,183.59 99.43,183.59 99.85,183.59 100.26,183.59 100.67,183.59 101.09,183.59 101.50,183.59 101.91,183.59 102.33,183.58 102.74,183.58 103.15,183.58 103.57,183.57 103.98,183.57 104.39,183.57 104.81,183.56 105.22,183.55 105.63,183.55 106.05,183.54 106.46,183.53 106.87,183.52 107.28,183.51 107.70,183.50 108.11,183.48 108.52,183.47 108.94,183.45 109.35,183.43 109.76,183.41 110.18,183.38 110.59,183.36 111.00,183.33 111.42,183.29 111.83,183.25 112.24,183.21 112.66,183.17 113.07,183.11 113.48,183.06 113.90,182.99 114.31,182.93 114.72,182.85 115.14,182.77 115.55,182.67 115.96,182.57 116.38,182.47 116.79,182.35 117.20,182.22 117.61,182.07 118.03,181.92 118.44,181.75 118.85,181.57 119.27,181.38 119.68,181.17 120.09,180.94 120.51,180.69 120.92,180.43 121.33,180.15 121.75,179.85 122.16,179.52 122.57,179.18 122.99,178.81 123.40,178.42 123.81,178.00 124.23,177.56 124.64,177.09 125.05,176.59 125.47,176.07 125.88,175.52 126.29,174.94 126.70,174.33 127.12,173.69 127.53,173.02 127.94,172.33 128.36,171.60 128.77,170.84 129.18,170.05 129.60,169.23 130.01,168.39 130.42,167.51 130.84,166.61 131.25,165.68 131.66,164.72 132.08,163.74 132.49,162.74 132.90,161.72 133.32,160.68 133.73,159.62 134.14,158.54 134.56,157.45 134.97,156.35 135.38,155.24 135.79,154.13 136.21,153.01 136.62,151.89 137.03,150.78 137.45,149.67 137.86,148.57 138.27,147.49 138.69,146.42 139.10,145.37 139.51,144.34 139.93,143.34 140.34,142.37 140.75,141.43 141.17,140.53 141.58,139.66 141.99,138.84 142.41,138.07 142.82,137.34 143.23,136.67 143.65,136.05 144.06,135.48 144.47,134.98 144.89,134.53 145.30,134.15 145.71,133.83 146.12,133.57 146.54,133.38 146.95,133.26 147.36,133.20 147.78,133.22 148.19,133.29 148.60,133.44 149.02,133.65 149.43,133.93 149.84,134.27 150.26,134.68 150.67,135.14 151.08,135.67 151.50,136.26 151.91,136.89 152.32,137.59 152.74,138.33 153.15,139.12 153.56,139.95 153.98,140.83 154.39,141.75 154.80,142.70 155.21,143.68 155.63,144.69 156.04,145.72 156.45,146.78 156.87,147.86 157.28,148.95 157.69,150.05 158.11,151.16 158.52,152.27 158.93,153.39 159.35,154.51 159.76,155.62 160.17,156.73 160.59,157.82 161.00,158.91 161.41,159.98 161.83,161.04 162.24,162.07 162.65,163.09 163.07,164.08 163.48,165.05 163.89,166.00 164.31,166.92 164.72,167.81 165.13,168.68 165.54,169.52 165.96,170.32 166.37,171.10 166.78,171.85 167.20,172.57 167.61,173.26 168.02,173.91 168.44,174.54 168.85,175.14 169.26,175.71 169.68,176.25 170.09,176.77 170.50,177.25 170.92,177.71 171.33,178.15 171.74,178.55 172.16,178.94 172.57,179.30 172.98,179.64 173.40,179.95 173.81,180.25 174.22,180.52 174.63,180.78 175.05,181.02 175.46,181.24 175.87,181.45 176.29,181.64 176.70,181.81 177.11,181.97 177.53,182.12 177.94,182.26 178.35,182.39 178.77,182.50 179.18,182.61 179.59,182.71 180.01,182.80 180.42,182.88 180.83,182.95 181.25,183.02 181.66,183.08 182.07,183.13 182.49,183.18 182.90,183.23 183.31,183.27 183.72,183.30 184.14,183.34 184.55,183.37 184.96,183.39 185.38,183.42 185.79,183.44 186.20,183.46 186.62,183.47 187.03,183.49 187.44,183.50 187.86,183.51 188.27,183.52 188.68,183.53 189.10,183.54 189.51,183.55 189.92,183.56 190.34,183.56 190.75,183.57 191.16,183.57 191.58,183.57 191.99,183.58 192.40,183.58 192.82,183.58 193.23,183.59 193.64,183.59 194.05,183.59 194.47,183.59 194.88,183.59 195.29,183.59 195.71,183.59 196.12,183.60 196.53,183.60 196.95,183.60 197.36,183.60 197.77,183.60 198.19,183.60 198.60,183.60 199.01,183.60 199.43,183.60 199.84,183.60 200.25,183.60 200.67,183.60 201.08,183.60 201.49,183.60 201.91,183.60 202.32,183.60 202.73,183.60 203.14,183.60 203.56,183.60 203.97,183.60 204.38,183.60 204.80,183.60 205.21,183.60 205.62,183.60 206.04,183.60 206.45,183.60 206.86,183.60 207.28,183.60 207.69,183.60 208.10,183.60 208.52,183.60 208.93,183.60 209.34,183.60 209.76,183.60 210.17,183.60 210.58,183.60 211.00,183.60 211.41,183.60 211.82,183.60 212.23,183.60 212.65,183.60 213.06,183.60 213.47,183.60 213.89,183.60 214.30,183.60 214.71,183.60 215.13,183.60 215.54,183.60 215.95,183.60 216.37,183.60 216.78,183.60 217.19,183.60 217.61,183.60 218.02,183.60 218.43,183.60 218.85,183.60 219.26,183.60 219.67,183.60 220.09,183.60 220.50,183.60 220.91,183.60 221.33,183.60 221.74,183.60 222.15,183.60 222.56,183.60 222.98,183.60 223.39,183.60 223.80,183.60 224.22,183.60 224.63,183.60 225.04,183.60 225.46,183.60 225.87,183.60 226.28,183.60 226.70,183.60 227.11,183.60 227.52,183.60 227.94,183.60 228.35,183.60 228.76,183.60 229.18,183.60 229.59,183.60 230.00,183.60 230.42,183.60 230.83,183.60 231.24,183.60 231.65,183.60 232.07,183.60 232.48,183.60 232.89,183.60 233.31,183.60 233.72,183.60 234.13,183.60 234.55,183.60 234.96,183.60 235.37,183.60 235.79,183.60 236.20,183.60 236.61,183.60 237.03,183.60 237.44,183.60 237.85,183.60 238.27,183.60 238.68,183.60 239.09,183.60 239.51,183.60 239.92,183.60 240.33,183.60 240.74,183.60 241.16,183.60 241.57,183.60 241.98,183.60 242.40,183.60 242.81,183.60 243.22,183.60 243.64,183.60 244.05,183.60 244.46,183.60 244.88,183.60 245.29,183.60 245.70,183.60 246.12,183.60 246.53,183.60 246.94,183.60 247.36,183.60 247.77,183.60 248.18,183.60 248.60,183.60 249.01,183.60 249.42,183.60 249.84,183.60 250.25,183.60 250.66,183.60 251.07,183.60 251.49,183.60 251.90,183.60 252.31,183.60 252.73,183.60 253.14,183.60 253.55,183.60 253.97,183.60 254.38,183.60 254.79,183.60 255.21,183.60 255.62,183.60 256.03,183.60 256.45,183.60 256.86,183.60 257.27,183.60 257.69,183.60 258.10,183.60 258.51,183.60 258.93,183.60 259.34,183.60 259.75,183.60 260.16,183.60 260.58,183.60 260.99,183.60 261.40,183.60 261.82,183.60 262.23,183.60 262.64,183.60 263.06,183.60 263.47,183.60 263.88,183.60 264.30,183.60 264.71,183.60 265.12,183.60 265.54,183.60 265.95,183.60 266.36,183.60 266.78,183.60 267.19,183.60 267.60,183.60 268.02,183.60 268.43,183.60 268.84,183.60 269.25,183.60 269.67,183.60 270.08,183.60 270.49,183.60 270.91,183.60 271.32,183.60 271.73,183.60 272.15,183.60 272.56,183.60 272.97,183.60 273.39,183.60 273.80,183.60"/><polyline fill="none" stroke="#000" stroke-width="1.35" points="26.30,183.60 26.71,183.60 27.13,183.60 27.54,183.60 27.95,183.60 28.37,183.60 28.78,183.60 29.19,183.60 29.61,183.60 30.02,183.60 30.43,183.60 30.85,183.60 31.26,183.60 31.67,183.60 32.08,183.60 32.50,183.60 32.91,183.60 33.32,183.60 33.74,183.60 34.15,183.60 34.56,183.60 34.98,183.60 35.39,183.60 35.80,183.60 36.22,183.60 36.63,183.60 37.04,183.60 37.46,183.60 37.87,183.60 38.28,183.60 38.70,183.60 39.11,183.60 39.52,183.60 39.94,183.60 40.35,183.60 40.76,183.60 41.17,183.60 41.59,183.60 42.00,183.60 42.41,183.60 42.83,183.60 43.24,183.60 43.65,183.60 44.07,183.60 44.48,183.60 44.89,183.60 45.31,183.60 45.72,183.60 46.13,183.60 46.55,183.60 46.96,183.60 47.37,183.60 47.79,183.60 48.20,183.60 48.61,183.60 49.03,183.60 49.44,183.60 49.85,183.60 50.26,183.60 50.68,183.60 51.09,183.60 51.50,183.60 51.92,183.60 52.33,183.60 52.74,183.60 53.16,183.60 53.57,183.60 53.98,183.60 54.40,183.60 54.81,183.60 55.22,183.60 55.64,183.60 56.05,183.60 56.46,183.60 56.88,183.60 57.29,183.60 57.70,183.60 58.12,183.60 58.53,183.60 58.94,183.60 59.36,183.60 59.77,183.60 60.18,183.60 60.59,183.60 61.01,183.60 61.42,183.60 61.83,183.60 62.25,183.60 62.66,183.60 63.07,183.60 63.49,183.60 63.90,183.60 64.31,183.60 64.73,183.60 65.14,183.60 65.55,183.60 65.97,183.60 66.38,183.60 66.79,183.60 67.21,183.60 67.62,183.60 68.03,183.60 68.45,183.60 68.86,183.60 69.27,183.60 69.68,183.60 70.10,183.60 70.51,183.60 70.92,183.60 71.34,183.60 71.75,183.60 72.16,183.60 72.58,183.60 72.99,183.60 73.40,183.60 73.82,183.60 74.23,183.60 74.64,183.60 75.06,183.60 75.47,183.60 75.88,183.60 76.30,183.60 76.71,183.60 77.12,183.60 77.54,183.60 77.95,183.60 78.36,183.60 78.77,183.60 79.19,183.60 79.60,183.60 80.01,183.60 80.43,183.60 80.84,183.60 81.25,183.60 81.67,183.60 82.08,183.60 82.49,183.60 82.91,183.60 83.32,183.60 83.73,183.60 84.15,183.60 84.56,183.60 84.97,183.60 85.39,183.60 85.80,183.60 86.21,183.60 86.63,183.60 87.04,183.60 87.45,183.60 87.87,183.60 88.28,183.60 88.69,183.60 89.10,183.60 89.52,183.60 89.93,183.60 90.34,183.60 90.76,183.60 91.17,183.60 91.58,183.60 92.00,183.60 92.41,183.60 92.82,183.60 93.24,183.60 93.65,183.60 94.06,183.60 94.48,183.60 94.89,183.60 95.30,183.60 95.72,183.60 96.13,183.60 96.54,183.60 96.96,183.60 97.37,183.60 97.78,183.60 98.19,183.60 98.61,183.60 99.02,183.59 99.43,183.59 99.85,183.59 100.26,183.59 100.67,183.59 101.09,183.59 101.50,183.59 101.91,183.59 102.33,183.58 102.74,183.58 103.15,183.58 103.57,183.57 103.98,183.57 104.39,183.57 104.81,183.56 105.22,183.55 105.63,183.55 106.05,183.54 106.46,183.53 106.87,183.52 107.28,183.51 107.70,183.50 108.11,183.48 108.52,183.47 108.94,183.45 109.35,183.43 109.76,183.41 110.18,183.38 110.59,183.36 111.00,183.33 111.42,183.29 111.83,183.25 112.24,183.21 112.66,183.17 113.07,183.11 113.48,183.06 113.90,182.99 114.31,182.93 114.72,182.85 115.14,182.77 115.55,182.67 115.96,182.57 116.38,182.47 116.79,182.35 117.20,182.22 117.61,182.07 118.03,181.92 118.44,181.75 118.85,181.57 119.27,181.38 119.68,181.17 120.09,180.94 120.51,180.69 120.92,180.43 121.33,180.15 121.75,179.85 122.16,179.52 122.57,179.18 122.99,178.81 123.40,178.42 123.81,178.00 124.23,177.56 124.64,177.09 125.05,176.59 125.47,176.07 125.88,175.52 126.29,174.94 126.70,174.33 127.12,173.69 127.53,173.02 127.94,172.33 128.36,171.60 128.77,170.84 129.18,170.05 129.60,169.23 130.01,168.39 130.42,167.51 130.84,166.61 131.25,165.68 131.66,164.72 132.08,163.74 132.49,162.74 132.90,161.72 133.32,160.68 133.73,159.62 134.14,158.54 134.56,157.45 134.97,156.35 135.38,155.24 135.79,154.13 136.21,153.01 136.62,151.89 137.03,150.78 137.45,149.67 137.86,148.57 138.27,147.48 138.69,146.41 139.10,145.36 139.51,144.34 139.93,143.33 140.34,142.36 140.75,141.42 141.17,140.52 141.58,139.66 141.99,138.84 142.41,138.06 142.82,137.34 143.23,136.66 143.65,136.04 144.06,135.47 144.47,134.96 144.89,134.52 145.30,134.13 145.71,133.81 146.12,133.55 146.54,133.35 146.95,133.23 147.36,133.17 147.78,133.17 148.19,133.25 148.60,133.38 149.02,133.59 149.43,133.86 149.84,134.19 150.26,134.59 150.67,135.04 151.08,135.55 151.50,136.12 151.91,136.74 152.32,137.42 152.74,138.14 153.15,138.91 153.56,139.71 153.98,140.56 154.39,141.44 154.80,142.36 155.21,143.30 155.63,144.27 156.04,145.25 156.45,146.26 156.87,147.27 157.28,148.30 157.69,149.33 158.11,150.36 158.52,151.39 158.93,152.41 159.35,153.43 159.76,154.43 160.17,155.41 160.59,156.38 161.00,157.32 161.41,158.24 161.83,159.12 162.24,159.98 162.65,160.80 163.07,161.58 163.48,162.32 163.89,163.02 164.31,163.67 164.72,164.28 165.13,164.84 165.54,165.35 165.96,165.81 166.37,166.22 166.78,166.57 167.20,166.86 167.61,167.10 168.02,167.28 168.44,167.41 168.85,167.47 169.26,167.48 169.68,167.42 170.09,167.31 170.50,167.14 170.92,166.90 171.33,166.61 171.74,166.26 172.16,165.84 172.57,165.37 172.98,164.85 173.40,164.26 173.81,163.62 174.22,162.93 174.63,162.18 175.05,161.38 175.46,160.52 175.87,159.62 176.29,158.67 176.70,157.68 177.11,156.65 177.53,155.57 177.94,154.45 178.35,153.30 178.77,152.12 179.18,150.90 179.59,149.66 180.01,148.40 180.42,147.11 180.83,145.80 181.25,144.49 181.66,143.16 182.07,141.82 182.49,140.48 182.90,139.14 183.31,137.81 183.72,136.49 184.14,135.18 184.55,133.88 184.96,132.61 185.38,131.36 185.79,130.14 186.20,128.95 186.62,127.80 187.03,126.69 187.44,125.62 187.86,124.60 188.27,123.63 188.68,122.72 189.10,121.87 189.51,121.07 189.92,120.34 190.34,119.68 190.75,119.08 191.16,118.56 191.58,118.11 191.99,117.73 192.40,117.43 192.82,117.21 193.23,117.06 193.64,116.99 194.05,117.00 194.47,117.09 194.88,117.26 195.29,117.51 195.71,117.83 196.12,118.23 196.53,118.70 196.95,119.25 197.36,119.86 197.77,120.55 198.19,121.30 198.60,122.12 199.01,123.00 199.43,123.93 199.84,124.92 200.25,125.96 200.67,127.05 201.08,128.19 201.49,129.37 201.91,130.58 202.32,131.83 202.73,133.11 203.14,134.42 203.56,135.75 203.97,137.10 204.38,138.46 204.80,139.84 205.21,141.22 205.62,142.61 206.04,144.00 206.45,145.39 206.86,146.78 207.28,148.15 207.69,149.52 208.10,150.87 208.52,152.20 208.93,153.52 209.34,154.81 209.76,156.09 210.17,157.33 210.58,158.55 211.00,159.74 211.41,160.91 211.82,162.04 212.23,163.14 212.65,164.20 213.06,165.23 213.47,166.23 213.89,167.19 214.30,168.12 214.71,169.02 215.13,169.87 215.54,170.70 215.95,171.48 216.37,172.24 216.78,172.95 217.19,173.64 217.61,174.29 218.02,174.91 218.43,175.50 218.85,176.06 219.26,176.58 219.67,177.08 220.09,177.55 220.50,178.00 220.91,178.41 221.33,178.80 221.74,179.17 222.15,179.51 222.56,179.83 222.98,180.14 223.39,180.42 223.80,180.68 224.22,180.92 224.63,181.14 225.04,181.35 225.46,181.55 225.87,181.73 226.28,181.89 226.70,182.05 227.11,182.19 227.52,182.32 227.94,182.44 228.35,182.54 228.76,182.64 229.18,182.74 229.59,182.82 230.00,182.90 230.42,182.97 230.83,183.03 231.24,183.09 231.65,183.14 232.07,183.19 232.48,183.23 232.89,183.27 233.31,183.31 233.72,183.34 234.13,183.37 234.55,183.39 234.96,183.41 235.37,183.44 235.79,183.45 236.20,183.47 236.61,183.49 237.03,183.50 237.44,183.51 237.85,183.52 238.27,183.53 238.68,183.54 239.09,183.55 239.51,183.55 239.92,183.56 240.33,183.56 240.74,183.57 241.16,183.57 241.57,183.58 241.98,183.58 242.40,183.58 242.81,183.58 243.22,183.59 243.64,183.59 244.05,183.59 244.46,183.59 244.88,183.59 245.29,183.59 245.70,183.59 246.12,183.60 246.53,183.60 246.94,183.60 247.36,183.60 247.77,183.60 248.18,183.60 248.60,183.60 249.01,183.60 249.42,183.60 249.84,183.60 250.25,183.60 250.66,183.60 251.07,183.60 251.49,183.60 251.90,183.60 252.31,183.60 252.73,183.60 253.14,183.60 253.55,183.60 253.97,183.60 254.38,183.60 254.79,183.60 255.21,183.60 255.62,183.60 256.03,183.60 256.45,183.60 256.86,183.60 257.27,183.60 257.69,183.60 258.10,183.60 258.51,183.60 258.93,183.60 259.34,183.60 259.75,183.60 260.16,183.60 260.58,183.60 260.99,183.60 261.40,183.60 261.82,183.60 262.23,183.60 262.64,183.60 263.06,183.60 263.47,183.60 263.88,183.60 264.30,183.60 264.71,183.60 265.12,183.60 265.54,183.60 265.95,183.60 266.36,183.60 266.78,183.60 267.19,183.60 267.60,183.60 268.02,183.60 268.43,183.60 268.84,183.60 269.25,183.60 269.67,183.60 270.08,183.60 270.49,183.60 270.91,183.60 271.32,183.60 271.73,183.60 272.15,183.60 272.56,183.60 272.97,183.60 273.39,183.60 273.80,183.60"/><polyline fill="none" stroke="#ff0000" stroke-width="1.9" stroke-linejoin="round" points="26.70,280.91 27.70,280.66 28.70,281.12 29.70,281.40 30.70,281.70 31.70,281.22 32.70,280.90 33.70,280.77 34.70,281.43 35.70,281.81 36.70,281.17 37.70,280.46 38.70,280.56 39.70,281.68 40.70,281.02 41.70,280.11 42.70,280.81 43.70,280.29 44.70,280.49 45.70,280.51 46.70,280.37 47.70,280.90 48.70,280.58 49.70,280.30 50.70,280.71 51.70,280.85 52.70,279.70 53.70,280.28 54.70,279.91 55.70,280.23 56.70,279.69 57.70,280.24 58.70,280.17 59.70,280.02 60.70,279.64 61.70,279.90 62.70,279.54 63.70,279.39 64.70,280.06 65.70,279.41 66.70,280.40 67.70,280.15 68.70,278.88 69.70,279.85 70.70,279.19 71.70,279.65 72.70,279.61 73.70,278.64 74.70,279.38 75.70,279.31 76.70,279.80 77.70,278.78 78.70,279.59 79.70,278.70 80.70,278.98 81.70,278.69 82.70,279.65 83.70,279.19 84.70,279.96 85.70,279.08 86.70,279.10 87.70,279.02 88.70,278.29 89.70,278.45 90.70,279.01 91.70,278.14 92.70,278.32 93.70,278.14 94.70,278.34 95.70,277.81 96.70,277.81 97.70,277.90 98.70,277.75 99.70,277.22 100.70,277.91 101.70,276.82 102.70,276.76 103.70,276.61 104.70,277.50 105.70,276.77 106.70,276.36 107.70,276.15 108.70,276.70 109.70,275.88 110.70,275.63 111.70,276.31 112.70,275.33 113.70,275.54 114.70,275.51 115.70,275.13 116.70,275.12 117.70,275.56 118.70,274.54 119.70,274.01 120.70,273.57 121.70,274.09 122.70,273.79 123.70,273.80 124.70,273.18 125.70,272.86 126.70,272.41 127.70,272.14 128.70,272.06 129.70,271.41 130.70,271.21 131.70,271.59 132.70,270.49 133.70,269.07 134.70,270.02 135.70,268.83 136.70,267.63 137.70,267.81 138.70,266.71 139.70,265.69 140.70,264.89 141.70,263.90 142.70,263.52 143.70,263.11 144.70,261.57 145.70,260.90 146.70,260.40 147.70,257.66 148.70,256.62 149.70,254.25 150.70,251.64 151.70,248.90 152.70,246.08 153.70,242.37 154.70,237.98 155.70,235.03 156.70,232.61 157.70,230.03 158.70,228.68 159.70,227.50 160.70,226.82 161.70,227.29 162.70,227.38 163.70,228.24 164.70,230.31 165.70,232.31"/><polyline fill="none" stroke="#ff0000" stroke-width="1.9" stroke-linejoin="round" points="176.70,264.66 177.70,265.11 178.70,266.54 179.70,266.95 180.70,268.14 181.70,267.13 182.70,267.27 183.70,267.02 184.70,266.64 185.70,265.96 186.70,265.94 187.70,265.69 188.70,264.72 189.70,263.07 190.70,261.84 191.70,261.01 192.70,258.80 193.70,256.26 194.70,252.89 195.70,251.94"/><polyline fill="none" stroke="#ff0000" stroke-width="1.9" stroke-linejoin="round" points="205.70,216.70 206.70,215.46 207.70,215.75 208.70,216.55 209.70,216.71 210.70,218.77 211.70,223.62"/><polyline fill="none" stroke="#ff0000" stroke-width="1.9" stroke-linejoin="round" points="227.70,278.29 228.70,279.72 229.70,280.55 230.70,281.52 231.70,280.84 232.70,281.83 233.70,282.08 234.70,281.56 235.70,281.92 236.70,282.90 237.70,282.96 238.70,282.64 239.70,282.45 240.70,282.86 241.70,282.31 242.70,282.36 243.70,282.03 244.70,282.44 245.70,282.42 246.70,283.72 247.70,282.39 248.70,283.06 249.70,283.10 250.70,282.43 251.70,283.05 252.70,281.55 253.70,282.58 254.70,282.93 255.70,281.48 256.70,282.04 257.70,283.04 258.70,282.46 259.70,282.08 260.70,282.41 261.70,282.34 262.70,282.92 263.70,282.80 264.70,282.47 265.70,282.30 266.70,282.58 267.70,283.20 268.70,282.76 269.70,282.90 270.70,282.54 271.70,282.03 272.70,282.29 273.70,282.91"/><g fill="#ff0000"><rect x="84.7" y="278.0" width="2" height="2"/><rect x="154.7" y="233.4" width="2" height="2"/><rect x="240.7" y="280.9" width="2" height="2"/><rect x="251.7" y="279.9" width="2" height="2"/><rect x="46.7" y="278.5" width="2" height="2"/><rect x="86.7" y="277.1" width="2" height="2"/><rect x="42.7" y="277.2" width="2" height="2"/><rect x="51.7" y="277.3" width="2" height="2"/><rect x="193.7" y="251.9" width="2" height="2"/><rect x="139.7" y="263.0" width="2" height="2"/><rect x="50.7" y="278.3" width="2" height="2"/><rect x="102.7" y="273.5" width="2" height="2"/><rect x="147.7" y="254.7" width="2" height="2"/><rect x="256.7" y="281.9" width="2" height="2"/></g><polygon fill="#ffbfbf" points="172.16,275.99 172.57,275.88 172.98,275.75 173.40,275.62 173.81,275.49 174.22,275.35 174.63,275.21 175.05,275.06 175.46,274.90 175.87,274.73 176.29,274.56 176.70,274.37 177.11,274.17 177.53,273.96 177.94,273.73 178.35,273.48 178.77,273.23 179.18,272.97 179.59,272.70 180.01,272.43 180.42,272.17 180.83,271.91 181.25,271.65 181.66,271.39 182.07,271.13 182.49,270.87 182.90,270.60 183.31,270.33 183.72,270.05 184.14,269.77 184.55,269.47 184.96,269.17 185.38,268.85 185.79,268.51 186.20,268.17 186.62,267.82 187.03,267.45 187.44,267.08 187.86,266.68 188.27,266.26 188.68,265.83 189.10,265.36 189.51,264.87 189.92,264.36 190.34,263.82 190.75,263.24 191.16,262.63 191.58,261.96 191.99,261.24 192.40,260.45 192.82,259.51 193.23,258.44 193.64,257.25 194.05,256.01 194.47,254.75 194.88,253.55 195.29,252.45 195.71,251.40 196.12,250.38 196.53,249.36 196.95,248.30 197.36,247.17 197.77,245.90 198.19,244.48 198.60,242.94 199.01,241.32 199.43,239.68 199.84,238.04 200.25,236.37 200.67,234.67 201.08,232.95 201.49,231.24 201.91,229.47 202.32,227.67 202.73,225.94 203.14,224.39 203.56,223.01 203.97,221.68 204.38,220.49 204.80,219.51 205.21,218.79 205.62,218.12 206.04,217.49 206.45,216.94 206.86,216.50 207.28,216.21 207.69,216.10 208.10,216.22 208.52,216.55 208.93,217.03 209.34,217.60 209.76,218.21 210.17,219.00 210.58,220.02 211.00,221.23 211.41,222.57 211.82,224.01 212.23,225.69 212.65,227.66 213.06,229.81 213.47,232.02 213.89,234.20 214.30,236.26 214.71,238.30 215.13,240.33 215.54,242.37 215.95,244.42 216.37,246.51 216.78,248.67 217.19,250.91 217.61,253.13 218.02,255.27 218.43,257.26 218.85,259.08 219.26,260.75 219.67,262.31 220.09,263.78 220.50,265.17 220.91,266.50 221.33,267.78 221.74,269.00 222.15,270.20 222.56,271.36 222.98,272.48 223.39,273.54 223.80,274.53 224.22,275.44 224.63,276.27 225.04,277.01 225.46,277.68 225.87,278.27 226.28,278.79 226.70,279.25 227.11,279.66 227.52,280.03 227.94,280.37 228.35,280.68 228.76,280.96 229.18,281.21 229.59,281.44 230.00,281.64 230.42,281.81 230.83,281.97 231.24,282.11 231.65,282.23 232.07,282.33 232.48,282.42 232.89,282.51 233.31,282.59 233.72,282.66 234.13,282.73 234.55,282.79 234.96,282.85 235.37,282.90 235.79,282.95 236.20,282.99 236.61,283.03 237.03,283.07 237.44,283.10 237.85,283.13 238.27,283.16 238.68,283.18 239.09,283.21 239.51,283.23 239.92,283.25 240.33,283.26 240.74,283.28 241.16,283.29 241.57,283.30 241.98,283.31 242.40,283.32 242.81,283.33 243.22,283.34 243.64,283.35 244.05,283.35 244.46,283.36 244.88,283.37 245.29,283.37 245.70,283.38 246.12,283.39 246.53,283.39 246.94,283.40 247.36,283.40 247.77,283.41 248.18,283.41 248.60,283.42 249.01,283.42 249.42,283.43 249.84,283.43 250.25,283.43 250.66,283.44 251.07,283.44 251.49,283.45 251.90,283.45 252.31,283.45 252.73,283.46 253.14,283.46 253.55,283.46 253.97,283.47 254.38,283.47 254.79,283.47 255.21,283.47 255.62,283.48 256.03,283.48 256.45,283.48 256.86,283.48 257.27,283.49 257.69,283.49 258.10,283.49 258.51,283.49 258.93,283.49 259.34,283.50 259.75,283.50 260.16,283.50 260.58,283.50 260.99,283.50 261.40,283.51 261.82,283.51 262.23,283.51 262.64,283.51 263.06,283.51 263.47,283.51 263.88,283.51 264.30,283.51 264.71,283.52 265.12,283.52 265.54,283.52 265.95,283.52 266.36,283.52 266.78,283.52 267.19,283.52 267.60,283.52 268.02,283.52 268.43,283.52 268.84,283.52 269.25,283.53 269.67,283.53 270.08,283.53 270.49,283.53 270.91,283.53 271.32,283.53 271.73,283.53 272.15,283.53 272.56,283.53 272.97,283.53 273.39,283.53 273.80,283.53 273.80,283.60 172.16,283.60"/><polyline fill="none" stroke="#ff0000" stroke-width="1.3" points="172.16,275.99 172.57,275.88 172.98,275.75 173.40,275.62 173.81,275.49 174.22,275.35 174.63,275.21 175.05,275.06 175.46,274.90 175.87,274.73 176.29,274.56 176.70,274.37 177.11,274.17 177.53,273.96 177.94,273.73 178.35,273.48 178.77,273.23 179.18,272.97 179.59,272.70 180.01,272.43 180.42,272.17 180.83,271.91 181.25,271.65 181.66,271.39 182.07,271.13 182.49,270.87 182.90,270.60 183.31,270.33 183.72,270.05 184.14,269.77 184.55,269.47 184.96,269.17 185.38,268.85 185.79,268.51 186.20,268.17 186.62,267.82 187.03,267.45 187.44,267.08 187.86,266.68 188.27,266.26 188.68,265.83 189.10,265.36 189.51,264.87 189.92,264.36 190.34,263.82 190.75,263.24 191.16,262.63 191.58,261.96 191.99,261.24 192.40,260.45 192.82,259.51 193.23,258.44 193.64,257.25 194.05,256.01 194.47,254.75 194.88,253.55 195.29,252.45 195.71,251.40 196.12,250.38 196.53,249.36 196.95,248.30 197.36,247.17 197.77,245.90 198.19,244.48 198.60,242.94 199.01,241.32 199.43,239.68 199.84,238.04 200.25,236.37 200.67,234.67 201.08,232.95 201.49,231.24 201.91,229.47 202.32,227.67 202.73,225.94 203.14,224.39 203.56,223.01 203.97,221.68 204.38,220.49 204.80,219.51 205.21,218.79 205.62,218.12 206.04,217.49 206.45,216.94 206.86,216.50 207.28,216.21 207.69,216.10 208.10,216.22 208.52,216.55 208.93,217.03 209.34,217.60 209.76,218.21 210.17,219.00 210.58,220.02 211.00,221.23 211.41,222.57 211.82,224.01 212.23,225.69 212.65,227.66 213.06,229.81 213.47,232.02 213.89,234.20 214.30,236.26 214.71,238.30 215.13,240.33 215.54,242.37 215.95,244.42 216.37,246.51 216.78,248.67 217.19,250.91 217.61,253.13 218.02,255.27 218.43,257.26 218.85,259.08 219.26,260.75 219.67,262.31 220.09,263.78 220.50,265.17 220.91,266.50 221.33,267.78 221.74,269.00 222.15,270.20 222.56,271.36 222.98,272.48 223.39,273.54 223.80,274.53 224.22,275.44 224.63,276.27 225.04,277.01 225.46,277.68 225.87,278.27 226.28,278.79 226.70,279.25 227.11,279.66 227.52,280.03 227.94,280.37 228.35,280.68 228.76,280.96 229.18,281.21 229.59,281.44 230.00,281.64 230.42,281.81 230.83,281.97 231.24,282.11 231.65,282.23 232.07,282.33 232.48,282.42 232.89,282.51 233.31,282.59 233.72,282.66 234.13,282.73 234.55,282.79 234.96,282.85 235.37,282.90 235.79,282.95 236.20,282.99 236.61,283.03 237.03,283.07 237.44,283.10 237.85,283.13 238.27,283.16 238.68,283.18 239.09,283.21 239.51,283.23 239.92,283.25 240.33,283.26 240.74,283.28 241.16,283.29 241.57,283.30 241.98,283.31 242.40,283.32 242.81,283.33 243.22,283.34 243.64,283.35 244.05,283.35 244.46,283.36 244.88,283.37 245.29,283.37 245.70,283.38 246.12,283.39 246.53,283.39 246.94,283.40 247.36,283.40 247.77,283.41 248.18,283.41 248.60,283.42 249.01,283.42 249.42,283.43 249.84,283.43 250.25,283.43 250.66,283.44 251.07,283.44 251.49,283.45 251.90,283.45 252.31,283.45 252.73,283.46 253.14,283.46 253.55,283.46 253.97,283.47 254.38,283.47 254.79,283.47 255.21,283.47 255.62,283.48 256.03,283.48 256.45,283.48 256.86,283.48 257.27,283.49 257.69,283.49 258.10,283.49 258.51,283.49 258.93,283.49 259.34,283.50 259.75,283.50 260.16,283.50 260.58,283.50 260.99,283.50 261.40,283.51 261.82,283.51 262.23,283.51 262.64,283.51 263.06,283.51 263.47,283.51 263.88,283.51 264.30,283.51 264.71,283.52 265.12,283.52 265.54,283.52 265.95,283.52 266.36,283.52 266.78,283.52 267.19,283.52 267.60,283.52 268.02,283.52 268.43,283.52 268.84,283.52 269.25,283.53 269.67,283.53 270.08,283.53 270.49,283.53 270.91,283.53 271.32,283.53 271.73,283.53 272.15,283.53 272.56,283.53 272.97,283.53 273.39,283.53 273.80,283.53"/><polygon fill="#bfbfff" points="26.30,282.89 26.71,282.89 27.13,282.89 27.54,282.88 27.95,282.88 28.37,282.88 28.78,282.87 29.19,282.87 29.61,282.87 30.02,282.87 30.43,282.86 30.85,282.86 31.26,282.86 31.67,282.85 32.08,282.85 32.50,282.85 32.91,282.85 33.32,282.84 33.74,282.84 34.15,282.84 34.56,282.83 34.98,282.83 35.39,282.83 35.80,282.83 36.22,282.82 36.63,282.82 37.04,282.82 37.46,282.81 37.87,282.81 38.28,282.81 38.70,282.80 39.11,282.80 39.52,282.80 39.94,282.80 40.35,282.79 40.76,282.79 41.17,282.79 41.59,282.78 42.00,282.78 42.41,282.78 42.83,282.77 43.24,282.77 43.65,282.77 44.07,282.76 44.48,282.76 44.89,282.76 45.31,282.75 45.72,282.75 46.13,282.75 46.55,282.74 46.96,282.74 47.37,282.73 47.79,282.73 48.20,282.73 48.61,282.72 49.03,282.72 49.44,282.71 49.85,282.71 50.26,282.71 50.68,282.70 51.09,282.70 51.50,282.69 51.92,282.69 52.33,282.69 52.74,282.68 53.16,282.68 53.57,282.67 53.98,282.67 54.40,282.66 54.81,282.66 55.22,282.65 55.64,282.65 56.05,282.64 56.46,282.64 56.88,282.63 57.29,282.63 57.70,282.62 58.12,282.62 58.53,282.61 58.94,282.60 59.36,282.60 59.77,282.59 60.18,282.59 60.59,282.58 61.01,282.57 61.42,282.57 61.83,282.56 62.25,282.55 62.66,282.54 63.07,282.54 63.49,282.53 63.90,282.52 64.31,282.51 64.73,282.50 65.14,282.49 65.55,282.48 65.97,282.47 66.38,282.46 66.79,282.45 67.21,282.44 67.62,282.43 68.03,282.42 68.45,282.41 68.86,282.40 69.27,282.39 69.68,282.37 70.10,282.36 70.51,282.35 70.92,282.34 71.34,282.32 71.75,282.31 72.16,282.30 72.58,282.28 72.99,282.27 73.40,282.25 73.82,282.24 74.23,282.22 74.64,282.21 75.06,282.19 75.47,282.18 75.88,282.16 76.30,282.14 76.71,282.13 77.12,282.11 77.54,282.09 77.95,282.08 78.36,282.06 78.77,282.04 79.19,282.02 79.60,282.00 80.01,281.98 80.43,281.96 80.84,281.95 81.25,281.93 81.67,281.91 82.08,281.88 82.49,281.86 82.91,281.84 83.32,281.82 83.73,281.80 84.15,281.78 84.56,281.76 84.97,281.73 85.39,281.71 85.80,281.69 86.21,281.67 86.63,281.64 87.04,281.62 87.45,281.60 87.87,281.57 88.28,281.55 88.69,281.52 89.10,281.50 89.52,281.48 89.93,281.45 90.34,281.43 90.76,281.40 91.17,281.38 91.58,281.35 92.00,281.32 92.41,281.30 92.82,281.27 93.24,281.25 93.65,281.22 94.06,281.19 94.48,281.17 94.89,281.14 95.30,281.12 95.72,281.09 96.13,281.06 96.54,281.04 96.96,281.01 97.37,280.98 97.78,280.96 98.19,280.93 98.61,280.90 99.02,280.88 99.43,280.85 99.85,280.83 100.26,280.80 100.67,280.78 101.09,280.75 101.50,280.73 101.91,280.70 102.33,280.68 102.74,280.65 103.15,280.63 103.57,280.61 103.98,280.58 104.39,280.56 104.81,280.54 105.22,280.52 105.63,280.49 106.05,280.47 106.46,280.45 106.87,280.42 107.28,280.40 107.70,280.38 108.11,280.36 108.52,280.33 108.94,280.31 109.35,280.29 109.76,280.26 110.18,280.24 110.59,280.21 111.00,280.19 111.42,280.16 111.83,280.13 112.24,280.11 112.66,280.08 113.07,280.05 113.48,280.02 113.90,279.99 114.31,279.96 114.72,279.93 115.14,279.89 115.55,279.86 115.96,279.83 116.38,279.79 116.79,279.75 117.20,279.71 117.61,279.67 118.03,279.63 118.44,279.58 118.85,279.54 119.27,279.49 119.68,279.44 120.09,279.39 120.51,279.33 120.92,279.27 121.33,279.21 121.75,279.13 122.16,279.06 122.57,278.98 122.99,278.89 123.40,278.80 123.81,278.71 124.23,278.61 124.64,278.50 125.05,278.39 125.47,278.28 125.88,278.16 126.29,278.04 126.70,277.91 127.12,277.78 127.53,277.65 127.94,277.51 128.36,277.36 128.77,277.22 129.18,277.07 129.60,276.91 130.01,276.76 130.42,276.60 130.84,276.44 131.25,276.27 131.66,276.11 132.08,275.94 132.49,275.76 132.90,275.57 133.32,275.38 133.73,275.19 134.14,274.99 134.56,274.78 134.97,274.56 135.38,274.34 135.79,274.11 136.21,273.87 136.62,273.63 137.03,273.38 137.45,273.12 137.86,272.86 138.27,272.58 138.69,272.30 139.10,272.02 139.51,271.72 139.93,271.42 140.34,271.12 140.75,270.80 141.17,270.48 141.58,270.15 141.99,269.81 142.41,269.47 142.82,269.14 143.23,268.80 143.65,268.45 144.06,268.10 144.47,267.74 144.89,267.36 145.30,266.97 145.71,266.56 146.12,266.12 146.54,265.66 146.95,265.16 147.36,264.63 147.78,264.05 148.19,263.41 148.60,262.70 149.02,261.91 149.43,261.05 149.84,260.12 150.26,259.14 150.67,258.10 151.08,257.01 151.50,255.88 151.91,254.71 152.32,253.40 152.74,251.95 153.15,250.40 153.56,248.77 153.98,247.12 154.39,245.49 154.80,243.94 155.21,242.54 155.63,241.35 156.04,240.23 156.45,239.13 156.87,238.07 157.28,237.08 157.69,236.19 158.11,235.43 158.52,234.82 158.93,234.39 159.35,234.02 159.76,233.68 160.17,233.39 160.59,233.17 161.00,233.03 161.41,233.01 161.83,233.14 162.24,233.42 162.65,233.82 163.07,234.30 163.48,234.84 163.89,235.41 164.31,236.20 164.72,237.22 165.13,238.41 165.54,239.68 165.96,240.97 166.37,242.21 166.78,243.46 167.20,244.71 167.61,245.98 168.02,247.27 168.44,248.57 168.85,249.89 169.26,251.22 169.68,252.57 170.09,253.93 170.50,255.30 170.92,256.67 171.33,258.07 171.74,259.56 172.16,261.11 172.57,262.68 172.98,264.22 173.40,265.73 173.81,267.16 174.22,268.51 174.63,269.77 175.05,270.93 175.46,272.03 175.87,273.08 176.29,274.07 176.70,275.00 177.11,275.86 177.53,276.64 177.94,277.35 178.35,277.98 178.77,278.55 179.18,279.06 179.59,279.54 180.01,279.97 180.42,280.36 180.83,280.71 181.25,281.02 181.66,281.30 182.07,281.54 182.49,281.75 182.90,281.93 183.31,282.09 183.72,282.23 184.14,282.35 184.55,282.47 184.96,282.58 185.38,282.67 185.79,282.76 186.20,282.84 186.62,282.91 187.03,282.97 187.44,283.02 187.86,283.07 188.27,283.11 188.68,283.15 189.10,283.18 189.51,283.21 189.92,283.24 190.34,283.26 190.75,283.28 191.16,283.29 191.58,283.30 191.99,283.32 192.40,283.33 192.82,283.34 193.23,283.35 193.64,283.36 194.05,283.37 194.47,283.38 194.88,283.39 195.29,283.39 195.71,283.40 196.12,283.41 196.53,283.41 196.95,283.42 197.36,283.43 197.77,283.43 198.19,283.44 198.60,283.44 199.01,283.45 199.43,283.45 199.84,283.46 200.25,283.46 200.67,283.47 201.08,283.47 201.49,283.47 201.91,283.48 202.32,283.48 202.73,283.48 203.14,283.49 203.56,283.49 203.97,283.49 204.38,283.49 204.80,283.50 205.21,283.50 205.62,283.50 206.04,283.50 206.45,283.51 206.86,283.51 207.28,283.51 207.69,283.51 208.10,283.51 208.52,283.52 208.93,283.52 209.34,283.52 209.76,283.52 210.17,283.52 210.58,283.52 211.00,283.53 211.41,283.53 211.82,283.53 212.23,283.53 212.65,283.53 213.06,283.53 213.47,283.53 213.89,283.53 214.30,283.54 214.71,283.54 215.13,283.54 215.54,283.54 215.95,283.54 216.37,283.54 216.78,283.54 217.19,283.54 217.61,283.54 218.02,283.54 218.43,283.54 218.85,283.55 219.26,283.55 219.67,283.55 220.09,283.55 220.50,283.55 220.91,283.55 221.33,283.55 221.74,283.55 222.15,283.55 222.56,283.55 222.98,283.55 223.39,283.55 223.80,283.55 224.22,283.55 224.63,283.55 225.04,283.55 225.46,283.56 225.87,283.56 226.28,283.56 226.70,283.56 227.11,283.56 227.52,283.56 227.94,283.56 228.35,283.56 228.76,283.56 229.18,283.56 229.59,283.56 230.00,283.56 230.42,283.56 230.83,283.56 231.24,283.56 231.65,283.56 232.07,283.56 232.48,283.56 232.89,283.56 233.31,283.56 233.72,283.56 234.13,283.56 234.55,283.56 234.96,283.57 235.37,283.57 235.79,283.57 236.20,283.57 236.61,283.57 237.03,283.57 237.44,283.57 237.85,283.57 238.27,283.57 238.68,283.57 239.09,283.57 239.51,283.57 239.92,283.57 240.33,283.57 240.74,283.57 241.16,283.57 241.57,283.57 241.98,283.57 242.40,283.57 242.81,283.57 243.22,283.57 243.64,283.57 244.05,283.57 244.46,283.57 244.88,283.57 245.29,283.57 245.70,283.57 246.12,283.57 246.53,283.57 246.94,283.57 247.36,283.57 247.77,283.57 248.18,283.57 248.60,283.57 249.01,283.58 249.42,283.58 249.84,283.58 250.25,283.58 250.66,283.58 251.07,283.58 251.49,283.58 251.90,283.58 252.31,283.58 252.73,283.58 253.14,283.58 253.55,283.58 253.97,283.58 254.38,283.58 254.79,283.58 255.21,283.58 255.62,283.58 256.03,283.58 256.45,283.58 256.86,283.58 257.27,283.58 257.69,283.58 258.10,283.58 258.51,283.58 258.93,283.58 259.34,283.58 259.75,283.58 260.16,283.58 260.58,283.58 260.99,283.58 261.40,283.58 261.82,283.58 262.23,283.58 262.64,283.58 263.06,283.58 263.47,283.58 263.88,283.58 264.30,283.58 264.71,283.58 265.12,283.58 265.54,283.58 265.95,283.58 266.36,283.58 266.78,283.58 267.19,283.58 267.60,283.58 268.02,283.58 268.43,283.58 268.84,283.58 269.25,283.58 269.67,283.58 270.08,283.58 270.49,283.58 270.91,283.58 271.32,283.58 271.73,283.58 272.15,283.58 272.56,283.58 272.97,283.58 273.39,283.58 273.80,283.58 273.80,283.60 26.30,283.60"/><polyline fill="none" stroke="#0000ff" stroke-width="1.4" points="26.30,282.89 26.71,282.89 27.13,282.89 27.54,282.88 27.95,282.88 28.37,282.88 28.78,282.87 29.19,282.87 29.61,282.87 30.02,282.87 30.43,282.86 30.85,282.86 31.26,282.86 31.67,282.85 32.08,282.85 32.50,282.85 32.91,282.85 33.32,282.84 33.74,282.84 34.15,282.84 34.56,282.83 34.98,282.83 35.39,282.83 35.80,282.83 36.22,282.82 36.63,282.82 37.04,282.82 37.46,282.81 37.87,282.81 38.28,282.81 38.70,282.80 39.11,282.80 39.52,282.80 39.94,282.80 40.35,282.79 40.76,282.79 41.17,282.79 41.59,282.78 42.00,282.78 42.41,282.78 42.83,282.77 43.24,282.77 43.65,282.77 44.07,282.76 44.48,282.76 44.89,282.76 45.31,282.75 45.72,282.75 46.13,282.75 46.55,282.74 46.96,282.74 47.37,282.73 47.79,282.73 48.20,282.73 48.61,282.72 49.03,282.72 49.44,282.71 49.85,282.71 50.26,282.71 50.68,282.70 51.09,282.70 51.50,282.69 51.92,282.69 52.33,282.69 52.74,282.68 53.16,282.68 53.57,282.67 53.98,282.67 54.40,282.66 54.81,282.66 55.22,282.65 55.64,282.65 56.05,282.64 56.46,282.64 56.88,282.63 57.29,282.63 57.70,282.62 58.12,282.62 58.53,282.61 58.94,282.60 59.36,282.60 59.77,282.59 60.18,282.59 60.59,282.58 61.01,282.57 61.42,282.57 61.83,282.56 62.25,282.55 62.66,282.54 63.07,282.54 63.49,282.53 63.90,282.52 64.31,282.51 64.73,282.50 65.14,282.49 65.55,282.48 65.97,282.47 66.38,282.46 66.79,282.45 67.21,282.44 67.62,282.43 68.03,282.42 68.45,282.41 68.86,282.40 69.27,282.39 69.68,282.37 70.10,282.36 70.51,282.35 70.92,282.34 71.34,282.32 71.75,282.31 72.16,282.30 72.58,282.28 72.99,282.27 73.40,282.25 73.82,282.24 74.23,282.22 74.64,282.21 75.06,282.19 75.47,282.18 75.88,282.16 76.30,282.14 76.71,282.13 77.12,282.11 77.54,282.09 77.95,282.08 78.36,282.06 78.77,282.04 79.19,282.02 79.60,282.00 80.01,281.98 80.43,281.96 80.84,281.95 81.25,281.93 81.67,281.91 82.08,281.88 82.49,281.86 82.91,281.84 83.32,281.82 83.73,281.80 84.15,281.78 84.56,281.76 84.97,281.73 85.39,281.71 85.80,281.69 86.21,281.67 86.63,281.64 87.04,281.62 87.45,281.60 87.87,281.57 88.28,281.55 88.69,281.52 89.10,281.50 89.52,281.48 89.93,281.45 90.34,281.43 90.76,281.40 91.17,281.38 91.58,281.35 92.00,281.32 92.41,281.30 92.82,281.27 93.24,281.25 93.65,281.22 94.06,281.19 94.48,281.17 94.89,281.14 95.30,281.12 95.72,281.09 96.13,281.06 96.54,281.04 96.96,281.01 97.37,280.98 97.78,280.96 98.19,280.93 98.61,280.90 99.02,280.88 99.43,280.85 99.85,280.83 100.26,280.80 100.67,280.78 101.09,280.75 101.50,280.73 101.91,280.70 102.33,280.68 102.74,280.65 103.15,280.63 103.57,280.61 103.98,280.58 104.39,280.56 104.81,280.54 105.22,280.52 105.63,280.49 106.05,280.47 106.46,280.45 106.87,280.42 107.28,280.40 107.70,280.38 108.11,280.36 108.52,280.33 108.94,280.31 109.35,280.29 109.76,280.26 110.18,280.24 110.59,280.21 111.00,280.19 111.42,280.16 111.83,280.13 112.24,280.11 112.66,280.08 113.07,280.05 113.48,280.02 113.90,279.99 114.31,279.96 114.72,279.93 115.14,279.89 115.55,279.86 115.96,279.83 116.38,279.79 116.79,279.75 117.20,279.71 117.61,279.67 118.03,279.63 118.44,279.58 118.85,279.54 119.27,279.49 119.68,279.44 120.09,279.39 120.51,279.33 120.92,279.27 121.33,279.21 121.75,279.13 122.16,279.06 122.57,278.98 122.99,278.89 123.40,278.80 123.81,278.71 124.23,278.61 124.64,278.50 125.05,278.39 125.47,278.28 125.88,278.16 126.29,278.04 126.70,277.91 127.12,277.78 127.53,277.65 127.94,277.51 128.36,277.36 128.77,277.22 129.18,277.07 129.60,276.91 130.01,276.76 130.42,276.60 130.84,276.44 131.25,276.27 131.66,276.11 132.08,275.94 132.49,275.76 132.90,275.57 133.32,275.38 133.73,275.19 134.14,274.99 134.56,274.78 134.97,274.56 135.38,274.34 135.79,274.11 136.21,273.87 136.62,273.63 137.03,273.38 137.45,273.12 137.86,272.86 138.27,272.58 138.69,272.30 139.10,272.02 139.51,271.72 139.93,271.42 140.34,271.12 140.75,270.80 141.17,270.48 141.58,270.15 141.99,269.81 142.41,269.47 142.82,269.14 143.23,268.80 143.65,268.45 144.06,268.10 144.47,267.74 144.89,267.36 145.30,266.97 145.71,266.56 146.12,266.12 146.54,265.66 146.95,265.16 147.36,264.63 147.78,264.05 148.19,263.41 148.60,262.70 149.02,261.91 149.43,261.05 149.84,260.12 150.26,259.14 150.67,258.10 151.08,257.01 151.50,255.88 151.91,254.71 152.32,253.40 152.74,251.95 153.15,250.40 153.56,248.77 153.98,247.12 154.39,245.49 154.80,243.94 155.21,242.54 155.63,241.35 156.04,240.23 156.45,239.13 156.87,238.07 157.28,237.08 157.69,236.19 158.11,235.43 158.52,234.82 158.93,234.39 159.35,234.02 159.76,233.68 160.17,233.39 160.59,233.17 161.00,233.03 161.41,233.01 161.83,233.14 162.24,233.42 162.65,233.82 163.07,234.30 163.48,234.84 163.89,235.41 164.31,236.20 164.72,237.22 165.13,238.41 165.54,239.68 165.96,240.97 166.37,242.21 166.78,243.46 167.20,244.71 167.61,245.98 168.02,247.27 168.44,248.57 168.85,249.89 169.26,251.22 169.68,252.57 170.09,253.93 170.50,255.30 170.92,256.67 171.33,258.07 171.74,259.56 172.16,261.11 172.57,262.68 172.98,264.22 173.40,265.73 173.81,267.16 174.22,268.51 174.63,269.77 175.05,270.93 175.46,272.03 175.87,273.08 176.29,274.07 176.70,275.00 177.11,275.86 177.53,276.64 177.94,277.35 178.35,277.98 178.77,278.55 179.18,279.06 179.59,279.54 180.01,279.97 180.42,280.36 180.83,280.71 181.25,281.02 181.66,281.30 182.07,281.54 182.49,281.75 182.90,281.93 183.31,282.09 183.72,282.23 184.14,282.35 184.55,282.47 184.96,282.58 185.38,282.67 185.79,282.76 186.20,282.84 186.62,282.91 187.03,282.97 187.44,283.02 187.86,283.07 188.27,283.11 188.68,283.15 189.10,283.18 189.51,283.21 189.92,283.24 190.34,283.26 190.75,283.28 191.16,283.29 191.58,283.30 191.99,283.32 192.40,283.33 192.82,283.34 193.23,283.35 193.64,283.36 194.05,283.37 194.47,283.38 194.88,283.39 195.29,283.39 195.71,283.40 196.12,283.41 196.53,283.41 196.95,283.42 197.36,283.43 197.77,283.43 198.19,283.44 198.60,283.44 199.01,283.45 199.43,283.45 199.84,283.46 200.25,283.46 200.67,283.47 201.08,283.47 201.49,283.47 201.91,283.48 202.32,283.48 202.73,283.48 203.14,283.49 203.56,283.49 203.97,283.49 204.38,283.49 204.80,283.50 205.21,283.50 205.62,283.50 206.04,283.50 206.45,283.51 206.86,283.51 207.28,283.51 207.69,283.51 208.10,283.51 208.52,283.52 208.93,283.52 209.34,283.52 209.76,283.52 210.17,283.52 210.58,283.52 211.00,283.53 211.41,283.53 211.82,283.53 212.23,283.53 212.65,283.53 213.06,283.53 213.47,283.53 213.89,283.53 214.30,283.54 214.71,283.54 215.13,283.54 215.54,283.54 215.95,283.54 216.37,283.54 216.78,283.54 217.19,283.54 217.61,283.54 218.02,283.54 218.43,283.54 218.85,283.55 219.26,283.55 219.67,283.55 220.09,283.55 220.50,283.55 220.91,283.55 221.33,283.55 221.74,283.55 222.15,283.55 222.56,283.55 222.98,283.55 223.39,283.55 223.80,283.55 224.22,283.55 224.63,283.55 225.04,283.55 225.46,283.56 225.87,283.56 226.28,283.56 226.70,283.56 227.11,283.56 227.52,283.56 227.94,283.56 228.35,283.56 228.76,283.56 229.18,283.56 229.59,283.56 230.00,283.56 230.42,283.56 230.83,283.56 231.24,283.56 231.65,283.56 232.07,283.56 232.48,283.56 232.89,283.56 233.31,283.56 233.72,283.56 234.13,283.56 234.55,283.56 234.96,283.57 235.37,283.57 235.79,283.57 236.20,283.57 236.61,283.57 237.03,283.57 237.44,283.57 237.85,283.57 238.27,283.57 238.68,283.57 239.09,283.57 239.51,283.57 239.92,283.57 240.33,283.57 240.74,283.57 241.16,283.57 241.57,283.57 241.98,283.57 242.40,283.57 242.81,283.57 243.22,283.57 243.64,283.57 244.05,283.57 244.46,283.57 244.88,283.57 245.29,283.57 245.70,283.57 246.12,283.57 246.53,283.57 246.94,283.57 247.36,283.57 247.77,283.57 248.18,283.57 248.60,283.57 249.01,283.58 249.42,283.58 249.84,283.58 250.25,283.58 250.66,283.58 251.07,283.58 251.49,283.58 251.90,283.58 252.31,283.58 252.73,283.58 253.14,283.58 253.55,283.58 253.97,283.58 254.38,283.58 254.79,283.58 255.21,283.58 255.62,283.58 256.03,283.58 256.45,283.58 256.86,283.58 257.27,283.58 257.69,283.58 258.10,283.58 258.51,283.58 258.93,283.58 259.34,283.58 259.75,283.58 260.16,283.58 260.58,283.58 260.99,283.58 261.40,283.58 261.82,283.58 262.23,283.58 262.64,283.58 263.06,283.58 263.47,283.58 263.88,283.58 264.30,283.58 264.71,283.58 265.12,283.58 265.54,283.58 265.95,283.58 266.36,283.58 266.78,283.58 267.19,283.58 267.60,283.58 268.02,283.58 268.43,283.58 268.84,283.58 269.25,283.58 269.67,283.58 270.08,283.58 270.49,283.58 270.91,283.58 271.32,283.58 271.73,283.58 272.15,283.58 272.56,283.58 272.97,283.58 273.39,283.58 273.80,283.58"/><polyline fill="none" stroke="#000" stroke-width="1.35" points="26.30,282.18 26.71,282.17 27.13,282.16 27.54,282.15 27.95,282.15 28.37,282.14 28.78,282.13 29.19,282.12 29.61,282.11 30.02,282.10 30.43,282.10 30.85,282.09 31.26,282.08 31.67,282.07 32.08,282.06 32.50,282.05 32.91,282.04 33.32,282.03 33.74,282.02 34.15,282.01 34.56,282.00 34.98,281.99 35.39,281.98 35.80,281.97 36.22,281.96 36.63,281.95 37.04,281.93 37.46,281.92 37.87,281.91 38.28,281.90 38.70,281.89 39.11,281.88 39.52,281.87 39.94,281.85 40.35,281.84 40.76,281.83 41.17,281.82 41.59,281.80 42.00,281.79 42.41,281.78 42.83,281.76 43.24,281.75 43.65,281.74 44.07,281.72 44.48,281.71 44.89,281.70 45.31,281.68 45.72,281.67 46.13,281.66 46.55,281.64 46.96,281.63 47.37,281.62 47.79,281.60 48.20,281.59 48.61,281.57 49.03,281.56 49.44,281.54 49.85,281.53 50.26,281.52 50.68,281.50 51.09,281.49 51.50,281.47 51.92,281.46 52.33,281.44 52.74,281.43 53.16,281.42 53.57,281.40 53.98,281.39 54.40,281.37 54.81,281.36 55.22,281.35 55.64,281.33 56.05,281.32 56.46,281.30 56.88,281.29 57.29,281.28 57.70,281.26 58.12,281.25 58.53,281.24 58.94,281.22 59.36,281.21 59.77,281.20 60.18,281.19 60.59,281.17 61.01,281.16 61.42,281.15 61.83,281.13 62.25,281.12 62.66,281.11 63.07,281.09 63.49,281.08 63.90,281.07 64.31,281.05 64.73,281.04 65.14,281.02 65.55,281.01 65.97,281.00 66.38,280.98 66.79,280.97 67.21,280.95 67.62,280.94 68.03,280.92 68.45,280.90 68.86,280.89 69.27,280.87 69.68,280.86 70.10,280.84 70.51,280.82 70.92,280.81 71.34,280.79 71.75,280.77 72.16,280.75 72.58,280.74 72.99,280.72 73.40,280.70 73.82,280.68 74.23,280.66 74.64,280.64 75.06,280.62 75.47,280.61 75.88,280.59 76.30,280.57 76.71,280.55 77.12,280.52 77.54,280.50 77.95,280.48 78.36,280.46 78.77,280.44 79.19,280.42 79.60,280.40 80.01,280.37 80.43,280.35 80.84,280.33 81.25,280.30 81.67,280.28 82.08,280.26 82.49,280.23 82.91,280.21 83.32,280.18 83.73,280.16 84.15,280.13 84.56,280.11 84.97,280.08 85.39,280.05 85.80,280.03 86.21,280.00 86.63,279.97 87.04,279.94 87.45,279.91 87.87,279.89 88.28,279.86 88.69,279.83 89.10,279.80 89.52,279.77 89.93,279.74 90.34,279.71 90.76,279.68 91.17,279.65 91.58,279.62 92.00,279.58 92.41,279.55 92.82,279.52 93.24,279.49 93.65,279.46 94.06,279.42 94.48,279.39 94.89,279.36 95.30,279.32 95.72,279.29 96.13,279.26 96.54,279.22 96.96,279.19 97.37,279.15 97.78,279.12 98.19,279.08 98.61,279.05 99.02,279.01 99.43,278.98 99.85,278.94 100.26,278.90 100.67,278.87 101.09,278.83 101.50,278.79 101.91,278.75 102.33,278.71 102.74,278.67 103.15,278.62 103.57,278.58 103.98,278.53 104.39,278.48 104.81,278.44 105.22,278.39 105.63,278.34 106.05,278.28 106.46,278.23 106.87,278.18 107.28,278.12 107.70,278.07 108.11,278.01 108.52,277.95 108.94,277.89 109.35,277.83 109.76,277.77 110.18,277.71 110.59,277.65 111.00,277.58 111.42,277.52 111.83,277.45 112.24,277.38 112.66,277.32 113.07,277.25 113.48,277.18 113.90,277.11 114.31,277.04 114.72,276.97 115.14,276.89 115.55,276.82 115.96,276.75 116.38,276.67 116.79,276.60 117.20,276.53 117.61,276.45 118.03,276.38 118.44,276.30 118.85,276.23 119.27,276.16 119.68,276.08 120.09,276.01 120.51,275.93 120.92,275.85 121.33,275.76 121.75,275.67 122.16,275.58 122.57,275.48 122.99,275.37 123.40,275.26 123.81,275.15 124.23,275.03 124.64,274.91 125.05,274.78 125.47,274.65 125.88,274.52 126.29,274.38 126.70,274.24 127.12,274.09 127.53,273.94 127.94,273.78 128.36,273.62 128.77,273.46 129.18,273.29 129.60,273.13 130.01,272.95 130.42,272.78 130.84,272.61 131.25,272.43 131.66,272.25 132.08,272.06 132.49,271.87 132.90,271.67 133.32,271.47 133.73,271.26 134.14,271.04 134.56,270.82 134.97,270.59 135.38,270.36 135.79,270.11 136.21,269.86 136.62,269.61 137.03,269.34 137.45,269.07 137.86,268.79 138.27,268.51 138.69,268.21 139.10,267.91 139.51,267.60 139.93,267.29 140.34,266.97 140.75,266.64 141.17,266.30 141.58,265.95 141.99,265.60 142.41,265.25 142.82,264.90 143.23,264.54 143.65,264.18 144.06,263.81 144.47,263.43 144.89,263.04 145.30,262.63 145.71,262.20 146.12,261.74 146.54,261.26 146.95,260.74 147.36,260.19 147.78,259.59 148.19,258.93 148.60,258.20 149.02,257.39 149.43,256.51 149.84,255.56 150.26,254.56 150.67,253.50 151.08,252.39 151.50,251.24 151.91,250.05 152.32,248.72 152.74,247.26 153.15,245.68 153.56,244.03 153.98,242.36 154.39,240.71 154.80,239.14 155.21,237.72 155.63,236.51 156.04,235.36 156.45,234.23 156.87,233.15 157.28,232.13 157.69,231.21 158.11,230.42 158.52,229.79 158.93,229.33 159.35,228.92 159.76,228.55 160.17,228.22 160.59,227.96 161.00,227.78 161.41,227.72 161.83,227.81 162.24,228.03 162.65,228.37 163.07,228.79 163.48,229.25 163.89,229.74 164.31,230.44 164.72,231.37 165.13,232.47 165.54,233.64 165.96,234.83 166.37,235.98 166.78,237.12 167.20,238.28 167.61,239.45 168.02,240.65 168.44,241.86 168.85,243.08 169.26,244.32 169.68,245.58 170.09,246.84 170.50,248.11 170.92,249.39 171.33,250.69 171.74,252.07 172.16,253.50 172.57,254.95 172.98,256.38 173.40,257.75 173.81,259.05 174.22,260.27 174.63,261.38 175.05,262.39 175.46,263.32 175.87,264.21 176.29,265.03 176.70,265.77 177.11,266.43 177.53,267.00 177.94,267.47 178.35,267.87 178.77,268.18 179.18,268.43 179.59,268.64 180.01,268.80 180.42,268.93 180.83,269.02 181.25,269.07 181.66,269.09 182.07,269.07 182.49,269.01 182.90,268.93 183.31,268.82 183.72,268.68 184.14,268.52 184.55,268.34 184.96,268.14 185.38,267.92 185.79,267.67 186.20,267.41 186.62,267.12 187.03,266.82 187.44,266.50 187.86,266.15 188.27,265.78 188.68,265.38 189.10,264.94 189.51,264.48 189.92,264.00 190.34,263.48 190.75,262.92 191.16,262.32 191.58,261.67 191.99,260.96 192.40,260.17 192.82,259.25 193.23,258.18 193.64,257.01 194.05,255.78 194.47,254.53 194.88,253.34 195.29,252.24 195.71,251.20 196.12,250.19 196.53,249.18 196.95,248.12 197.36,246.99 197.77,245.73 198.19,244.32 198.60,242.78 199.01,241.16 199.43,239.53 199.84,237.90 200.25,236.23 200.67,234.53 201.08,232.82 201.49,231.12 201.91,229.35 202.32,227.55 202.73,225.82 203.14,224.27 203.56,222.90 203.97,221.57 204.38,220.38 204.80,219.41 205.21,218.69 205.62,218.02 206.04,217.40 206.45,216.85 206.86,216.41 207.28,216.12 207.69,216.01 208.10,216.13 208.52,216.46 208.93,216.94 209.34,217.52 209.76,218.13 210.17,218.92 210.58,219.94 211.00,221.15 211.41,222.50 211.82,223.94 212.23,225.62 212.65,227.59 213.06,229.75 213.47,231.96 213.89,234.13 214.30,236.20 214.71,238.23 215.13,240.26 215.54,242.30 215.95,244.36 216.37,246.45 216.78,248.61 217.19,250.85 217.61,253.08 218.02,255.21 218.43,257.21 218.85,259.02 219.26,260.70 219.67,262.26 220.09,263.73 220.50,265.12 220.91,266.45 221.33,267.72 221.74,268.96 222.15,270.15 222.56,271.31 222.98,272.43 223.39,273.49 223.80,274.48 224.22,275.39 224.63,276.22 225.04,276.97 225.46,277.64 225.87,278.23 226.28,278.75 226.70,279.20 227.11,279.61 227.52,279.99 227.94,280.33 228.35,280.64 228.76,280.92 229.18,281.17 229.59,281.40 230.00,281.60 230.42,281.77 230.83,281.93 231.24,282.07 231.65,282.19 232.07,282.29 232.48,282.39 232.89,282.47 233.31,282.55 233.72,282.62 234.13,282.69 234.55,282.75 234.96,282.81 235.37,282.86 235.79,282.91 236.20,282.96 236.61,283.00 237.03,283.03 237.44,283.07 237.85,283.10 238.27,283.13 238.68,283.15 239.09,283.18 239.51,283.20 239.92,283.22 240.33,283.23 240.74,283.25 241.16,283.26 241.57,283.27 241.98,283.29 242.40,283.30 242.81,283.30 243.22,283.31 243.64,283.32 244.05,283.33 244.46,283.33 244.88,283.34 245.29,283.35 245.70,283.35 246.12,283.36 246.53,283.36 246.94,283.37 247.36,283.38 247.77,283.38 248.18,283.39 248.60,283.39 249.01,283.40 249.42,283.40 249.84,283.41 250.25,283.41 250.66,283.41 251.07,283.42 251.49,283.42 251.90,283.43 252.31,283.43 252.73,283.43 253.14,283.44 253.55,283.44 253.97,283.44 254.38,283.45 254.79,283.45 255.21,283.45 255.62,283.45 256.03,283.46 256.45,283.46 256.86,283.46 257.27,283.47 257.69,283.47 258.10,283.47 258.51,283.47 258.93,283.47 259.34,283.48 259.75,283.48 260.16,283.48 260.58,283.48 260.99,283.48 261.40,283.49 261.82,283.49 262.23,283.49 262.64,283.49 263.06,283.49 263.47,283.49 263.88,283.49 264.30,283.50 264.71,283.50 265.12,283.50 265.54,283.50 265.95,283.50 266.36,283.50 266.78,283.50 267.19,283.50 267.60,283.50 268.02,283.51 268.43,283.51 268.84,283.51 269.25,283.51 269.67,283.51 270.08,283.51 270.49,283.51 270.91,283.51 271.32,283.51 271.73,283.51 272.15,283.51 272.56,283.51 272.97,283.51 273.39,283.51 273.80,283.51"/><rect x="25.7" y="10.0" width="250.2" height="275.85" fill="none" stroke="#000" stroke-width="1.4"/><line x1="88.90" y1="285.85" x2="88.90" y2="291.65000000000003" stroke="#000" stroke-width="1.4"/><line x1="158.70" y1="285.85" x2="158.70" y2="291.65000000000003" stroke="#000" stroke-width="1.4"/><line x1="228.50" y1="285.85" x2="228.50" y2="291.65000000000003" stroke="#000" stroke-width="1.4"/><rect x="254.2" y="18.2" width="13" height="13" fill="#ffbfbf"/><rect x="254.2" y="46.4" width="13" height="13" fill="#bfbfff"/><polyline fill="none" stroke="#ff0000" stroke-width="1.3" stroke-linejoin="round" points="313.00,124.28 313.50,124.52 314.00,124.73 314.50,124.40 315.00,124.13 315.50,124.13 316.00,124.28 316.50,124.36 317.00,124.39 317.50,124.08 318.00,124.22 318.50,124.53 319.00,124.37 319.50,124.36 320.00,124.18 320.50,124.28 321.00,124.49 321.50,124.37 322.00,124.20 322.50,124.35 323.00,124.22 323.50,123.83 324.00,124.04 324.50,124.17 325.00,123.74 325.50,123.66 326.00,123.84 326.50,123.66 327.00,123.32 327.50,123.33 328.00,123.51 328.50,123.19 329.00,122.63 329.20,122.63 329.50,122.74 330.00,122.43 330.50,122.29 331.00,122.51 331.50,122.46 332.00,122.31 332.50,122.64 333.00,123.09 333.50,123.48 334.00,123.46 334.50,123.35 335.00,123.58 335.50,123.50 336.00,123.75 336.50,124.18 337.00,124.05 337.50,124.20 338.00,124.46 338.50,124.31 339.00,124.19 339.50,124.19 340.00,123.79 340.50,123.58 341.00,123.72 341.50,123.03 342.00,122.63 342.50,122.47 343.00,122.07 343.50,121.52 344.00,120.82 344.50,120.34 345.00,119.45 345.50,118.53 346.00,117.33 346.50,115.45 347.00,112.74 347.50,108.89 348.00,101.78 348.50,83.89 349.00,48.33 349.25,38.49 349.30,39.21 349.50,48.76 350.00,85.05 350.50,103.79 351.00,111.44 351.50,115.44 352.00,118.44 352.50,120.28 353.00,121.43 353.50,122.71 354.00,122.87 354.50,122.93 355.00,123.20 355.50,123.44 356.00,124.04 356.50,124.42 357.00,123.91 357.50,123.50 358.00,123.97 358.50,124.38 359.00,124.36 359.50,123.98 360.00,123.98 360.50,124.12 361.00,124.05 361.50,123.93 362.00,124.05 362.50,124.24 363.00,124.16 363.50,124.08 364.00,123.87 364.50,123.83 365.00,124.27 365.50,124.32 366.00,123.86 366.50,124.13 367.00,124.47 367.50,124.60 368.00,124.52 368.50,124.06 369.00,123.79 369.50,124.10 370.00,124.79 370.50,124.40 371.00,123.82 371.50,124.05 372.00,123.99 372.50,123.81 373.00,123.86 373.50,123.89 374.00,124.07 374.50,123.95 375.00,123.80 375.50,123.55 376.00,123.18 376.50,122.48 377.00,121.47 377.50,120.58 378.00,117.41 378.50,109.99 379.00,100.57 379.10,99.90 379.15,99.85 379.50,104.04 380.00,113.71 380.50,118.93 381.00,121.15 381.50,122.22 382.00,122.71 382.50,123.04 383.00,123.44 383.50,123.73 384.00,123.80 384.50,123.50 385.00,123.61 385.50,124.03 386.00,124.28 386.50,124.37 387.00,124.09 387.50,123.88 388.00,124.37 388.50,124.64 389.00,124.62 389.50,124.87 390.00,124.42 390.50,124.12 391.00,124.35 391.50,124.39 392.00,124.41 392.50,124.35 393.00,124.29 393.50,124.00 394.00,123.94 394.50,124.08 395.00,124.13 395.50,124.19 396.00,124.28 396.50,124.50 397.00,124.45 397.50,124.36 398.00,124.33 398.50,124.20 399.00,124.15 399.50,124.15 400.00,124.25 400.50,124.34 401.00,124.37 401.50,124.14 402.00,124.19 402.50,124.29 403.00,124.01 403.50,124.11 404.00,124.14 404.50,124.23 405.00,124.22 405.50,123.99 406.00,123.94 406.50,124.36 407.00,124.51 407.50,124.08 408.00,124.08 408.50,124.01 409.00,124.32 409.50,124.33 410.00,124.10 410.50,124.46 411.00,124.12 411.50,124.08 412.00,124.51 412.50,124.54 413.00,124.41 413.50,124.50 414.00,124.48 414.50,124.37 415.00,124.32 415.50,124.37 416.00,124.23 416.50,124.26 417.00,124.34 417.50,124.01 418.00,124.16 418.50,124.65 419.00,124.75 419.50,124.36 420.00,124.32 420.50,124.33 421.00,124.19 421.50,124.28 422.00,123.90 422.50,123.92 423.00,124.14 423.50,123.99 424.00,123.91 424.50,123.77 425.00,123.86 425.50,124.27 426.00,124.72 426.50,124.58 427.00,124.48 427.50,124.43 428.00,123.91 428.50,123.98 429.00,124.39 429.50,124.29 430.00,124.27 430.50,124.44 431.00,124.24 431.50,123.88 432.00,123.99 432.50,124.21 433.00,124.19 433.50,124.40 434.00,124.77 434.50,124.52 435.00,124.34 435.50,124.58 436.00,124.58 436.50,124.60 437.00,124.41 437.50,124.35 438.00,124.77 438.50,124.79 439.00,124.32 439.50,124.29 440.00,124.62 440.50,124.58 441.00,124.26 441.50,124.46 442.00,124.34 442.50,124.16 443.00,124.38 443.50,124.08 444.00,124.29 444.50,124.56 445.00,124.15 445.50,124.19 446.00,124.32 446.50,123.88 447.00,123.84 447.50,124.22 448.00,124.45 448.50,124.43 449.00,124.33 449.50,124.38 450.00,124.33 450.50,124.46 451.00,124.52 451.50,124.37 452.00,124.43 452.50,124.20 453.00,123.98 453.50,124.43 454.00,124.61 454.50,124.30 455.00,124.30 455.50,124.26 456.00,124.25 456.50,124.22 457.00,124.22 457.50,124.06 458.00,124.24 458.50,124.43 459.00,123.92 459.50,123.97 460.00,124.18 460.50,124.24 461.00,124.11 461.50,124.15 462.00,124.98 462.50,124.69 463.00,124.11 463.50,124.28 464.00,124.25 464.50,123.99 465.00,123.75 465.50,124.15 466.00,124.34 466.50,124.54 467.00,124.42 467.50,124.16 468.00,124.79 468.50,124.62 469.00,123.95 469.50,124.07 470.00,124.21 470.50,124.36 471.00,124.37 471.50,124.08 472.00,124.08 472.50,124.65 473.00,124.81 473.50,123.82 474.00,123.52 474.50,123.78 475.00,123.80 475.50,123.76 476.00,123.70 476.50,123.33 477.00,121.82 477.50,118.69 478.00,114.20 478.10,113.73 478.20,113.78 478.50,115.24 479.00,119.31 479.50,122.03 480.00,123.24 480.50,123.48 481.00,123.57 481.50,123.64 482.00,123.76 482.50,123.44 483.00,123.78 483.50,124.41 484.00,124.22 484.50,124.32 485.00,124.45 485.50,124.35 486.00,123.85 486.50,123.75 487.00,124.29 487.50,124.62 488.00,124.85 488.50,124.82 489.00,124.30 489.50,123.67 490.00,123.98 490.50,124.37 491.00,124.44 491.50,124.42 492.00,124.29 492.50,124.05 493.00,124.09 493.50,124.28 494.00,124.26 494.50,124.42 495.00,124.34 495.10,124.32 495.50,124.33 496.00,124.41 496.50,124.50 497.00,124.28 497.50,124.09 498.00,124.49 498.50,124.57 499.00,124.44 499.50,124.53 500.00,124.26 500.50,124.06 501.00,124.18 501.50,124.36 502.00,124.44 502.50,124.18 503.00,123.96 503.50,124.17 504.00,124.55 504.50,124.16 505.00,123.96 505.50,124.27 506.00,124.27 506.50,124.28 507.00,124.27 507.50,124.63 508.00,124.63 508.50,124.43 509.00,124.43 509.50,124.23 510.00,124.26 510.50,124.35 511.00,124.12 511.50,124.15 512.00,124.25 512.40,124.39 512.50,124.42 513.00,124.19 513.50,124.46 514.00,124.72 514.50,124.69 515.00,124.62 515.50,124.38 516.00,124.20 516.50,124.17 517.00,124.41 517.50,124.48 518.00,124.06 518.50,124.03 519.00,124.04 519.50,124.08 520.00,124.11 520.50,123.86 521.00,124.10 521.50,124.30 522.00,123.99 522.50,124.14 523.00,124.81 523.50,124.42 524.00,124.36 524.50,124.49 525.00,124.09 525.50,124.18 526.00,124.01 526.50,124.27 527.00,124.61 527.50,124.25 528.00,124.12 528.50,123.98 529.00,123.97 529.50,124.40 530.00,124.16 530.50,123.92 531.00,124.25 531.50,124.51 532.00,124.72 532.50,124.45 533.00,124.09 533.50,124.25 534.00,124.31 534.50,124.18 535.00,124.43 535.50,124.78"/><polyline fill="none" stroke="#ff0000" stroke-width="1.3" stroke-linejoin="round" points="313.00,191.45 313.50,191.63 314.00,191.76 314.50,191.70 315.00,191.85 315.50,191.51 316.00,191.12 316.50,191.10 317.00,191.19 317.50,191.59 318.00,191.60 318.50,191.51 319.00,191.18 319.50,191.12 320.00,191.29 320.50,191.57 321.00,191.88 321.50,191.74 322.00,191.57 322.50,191.50 323.00,191.63 323.50,191.45 324.00,191.25 324.50,191.28 325.00,191.26 325.50,191.17 326.00,191.22 326.50,191.20 327.00,191.37 327.50,191.22 328.00,191.22 328.50,191.38 329.00,191.13 329.20,191.00 329.50,191.07 330.00,191.25 330.50,191.30 331.00,191.24 331.50,191.22 332.00,191.62 332.50,191.66 333.00,191.22 333.50,191.30 334.00,191.36 334.50,191.28 335.00,191.39 335.50,191.19 336.00,190.72 336.50,190.70 337.00,191.10 337.50,191.05 338.00,190.98 338.50,191.15 339.00,190.90 339.50,190.84 340.00,191.09 340.50,190.90 341.00,190.62 341.50,190.35 342.00,190.21 342.50,189.63 343.00,188.72 343.50,188.15 344.00,187.21 344.50,185.89 345.00,184.73 345.50,183.60 346.00,181.87 346.50,178.73 347.00,174.22 347.50,168.53 348.00,160.91 348.50,151.80 349.00,144.59 349.25,143.37 349.30,143.25 349.50,143.81 350.00,150.00 350.50,158.82 351.00,167.32 351.50,173.95 352.00,178.46 352.50,181.47 353.00,183.58 353.50,185.17 354.00,185.94 354.50,186.65 355.00,187.85 355.50,188.74 356.00,188.94 356.50,189.48 357.00,190.02 357.50,190.05 358.00,190.39 358.50,190.73 359.00,190.57 359.50,190.72 360.00,191.06 360.50,190.82 361.00,190.81 361.50,190.61 362.00,190.58 362.50,191.02 363.00,191.04 363.50,190.97 364.00,191.09 364.50,191.18 365.00,191.40 365.50,191.40 366.00,191.18 366.50,191.29 367.00,191.71 367.50,191.56 368.00,191.30 368.50,191.09 369.00,191.24 369.50,191.63 370.00,191.63 370.50,191.50 371.00,191.08 371.50,191.24 372.00,191.55 372.50,191.23 373.00,190.82 373.50,191.03 374.00,191.23 374.50,191.56 375.00,191.43 375.50,190.79 376.00,190.75 376.50,190.32 377.00,189.72 377.50,189.28 378.00,187.42 378.50,184.07 379.00,181.58 379.10,181.71 379.15,182.06 379.50,183.19 380.00,186.03 380.50,188.49 381.00,189.99 381.50,190.46 382.00,190.80 382.50,190.72 383.00,190.49 383.50,190.88 384.00,191.14 384.50,191.03 385.00,191.14 385.50,191.55 386.00,191.60 386.50,191.47 387.00,191.55 387.50,191.59 388.00,191.25 388.50,191.16 389.00,191.59 389.50,191.43 390.00,191.22 390.50,191.36 391.00,191.20 391.50,191.09 392.00,191.27 392.50,191.51 393.00,191.54 393.50,191.24 394.00,191.14 394.50,191.45 395.00,191.67 395.50,191.73 396.00,191.71 396.50,191.79 397.00,191.79 397.50,191.46 398.00,191.32 398.50,191.34 399.00,190.92 399.50,190.75 400.00,191.53 400.50,191.63 401.00,190.88 401.50,190.97 402.00,191.63 402.50,191.72 403.00,191.53 403.50,191.49 404.00,191.41 404.50,191.68 405.00,191.83 405.50,191.59 406.00,191.61 406.50,191.82 407.00,191.62 407.50,191.48 408.00,191.57 408.50,191.40 409.00,191.56 409.50,191.65 410.00,191.34 410.50,191.07 411.00,190.96 411.50,191.52 412.00,191.54 412.50,191.35 413.00,191.49 413.50,191.50 414.00,191.67 414.50,191.45 415.00,191.29 415.50,191.45 416.00,191.52 416.50,191.50 417.00,191.42 417.50,191.54 418.00,191.82 418.50,191.81 419.00,191.45 419.50,191.42 420.00,191.56 420.50,191.57 421.00,191.89 421.50,191.77 422.00,191.44 422.50,191.33 423.00,191.28 423.50,191.33 424.00,191.66 424.50,191.82 425.00,191.44 425.50,191.72 426.00,191.59 426.50,191.40 427.00,191.81 427.50,191.76 428.00,191.54 428.50,191.42 429.00,191.40 429.50,191.56 430.00,191.22 430.50,190.99 431.00,191.42 431.50,191.41 432.00,191.07 432.50,191.13 433.00,191.31 433.50,191.49 434.00,191.87 434.50,191.74 435.00,191.16 435.50,191.11 436.00,191.29 436.50,191.45 437.00,191.90 437.50,191.84 438.00,191.90 438.50,192.11 439.00,191.87 439.50,191.46 440.00,191.37 440.50,191.29 441.00,191.45 441.50,191.73 442.00,191.79 442.50,191.82 443.00,191.25 443.50,191.31 444.00,191.81 444.50,191.99 445.00,191.66 445.50,191.21 446.00,191.39 446.50,191.37 447.00,191.11 447.50,191.11 448.00,191.80 448.50,191.88 449.00,191.24 449.50,191.27 450.00,191.45 450.50,191.75 451.00,191.92 451.50,191.83 452.00,191.67 452.50,191.56 453.00,191.44 453.50,191.15 454.00,191.62 454.50,191.80 455.00,191.62 455.50,191.64 456.00,191.45 456.50,191.48 457.00,191.25 457.50,191.26 458.00,191.57 458.50,191.73 459.00,191.75 459.50,191.78 460.00,191.74 460.50,191.56 461.00,191.17 461.50,191.07 462.00,191.69 462.50,191.80 463.00,191.67 463.50,191.61 464.00,191.35 464.50,191.74 465.00,191.92 465.50,191.82 466.00,191.85 466.50,191.54 467.00,191.05 467.50,191.11 468.00,191.23 468.50,190.82 469.00,191.31 469.50,191.82 470.00,191.70 470.50,191.58 471.00,191.45 471.50,191.51 472.00,191.52 472.50,191.44 473.00,191.52 473.50,191.05 474.00,191.03 474.50,191.29 475.00,191.20 475.50,191.35 476.00,190.72 476.50,190.00 477.00,189.14 477.50,187.35 478.00,186.03 478.10,186.14 478.20,185.87 478.50,186.29 479.00,188.22 479.50,189.55 480.00,190.08 480.50,190.52 481.00,191.28 481.50,191.69 482.00,191.48 482.50,191.15 483.00,191.20 483.50,191.37 484.00,191.28 484.50,191.23 485.00,191.47 485.50,191.70 486.00,191.17 486.50,191.19 487.00,191.64 487.50,191.68 488.00,191.66 488.50,191.54 489.00,191.83 489.50,191.24 490.00,191.23 490.50,191.78 491.00,191.19 491.50,190.69 492.00,191.07 492.50,191.35 493.00,191.48 493.50,191.69 494.00,191.50 494.50,191.63 495.00,191.69 495.10,191.65 495.50,191.76 496.00,191.69 496.50,191.68 497.00,191.76 497.50,191.39 498.00,191.20 498.50,191.42 499.00,191.40 499.50,191.14 500.00,191.11 500.50,191.45 501.00,191.58 501.50,191.79 502.00,191.65 502.50,191.31 503.00,191.32 503.50,191.34 504.00,191.33 504.50,191.06 505.00,191.22 505.50,191.73 506.00,191.86 506.50,191.50 507.00,191.27 507.50,191.78 508.00,191.80 508.50,191.54 509.00,191.53 509.50,191.64 510.00,191.84 510.50,192.07 511.00,191.99 511.50,191.66 512.00,191.36 512.40,191.21 512.50,191.30 513.00,191.31 513.50,191.21 514.00,191.48 514.50,191.52 515.00,191.36 515.50,191.32 516.00,191.33 516.50,191.85 517.00,191.64 517.50,191.42 518.00,191.55 518.50,191.53 519.00,191.62 519.50,191.46 520.00,191.35 520.50,191.36 521.00,191.25 521.50,191.14 522.00,191.45 522.50,191.54 523.00,191.48 523.50,191.71 524.00,191.42 524.50,191.50 525.00,191.53 525.50,191.46 526.00,191.86 526.50,191.63 527.00,191.21 527.50,191.17 528.00,191.73 528.50,191.83 529.00,191.21 529.50,191.42 530.00,191.61 530.50,191.46 531.00,191.31 531.50,190.93 532.00,190.98 532.50,191.18 533.00,191.03 533.50,191.02 534.00,191.14 534.50,191.47 535.00,191.76 535.50,191.71"/><polyline fill="none" stroke="#ff0000" stroke-width="1.3" stroke-linejoin="round" points="313.00,237.31 313.50,237.12 314.00,237.06 314.50,237.22 315.00,237.22 315.50,237.20 316.00,237.19 316.50,237.12 317.00,236.92 317.50,236.86 318.00,236.76 318.50,236.49 319.00,236.22 319.50,236.03 320.00,235.81 320.50,235.42 321.00,234.98 321.50,234.47 322.00,234.10 322.50,233.58 323.00,232.75 323.50,231.83 324.00,230.82 324.50,229.81 325.00,228.52 325.50,227.17 326.00,225.70 326.50,224.36 327.00,223.12 327.50,221.88 328.00,220.88 328.50,219.75 329.00,218.60 329.20,218.13 329.50,217.53 330.00,216.66 330.50,215.79 331.00,214.90 331.50,214.11 332.00,213.77 332.50,214.29 333.00,215.19 333.50,216.60 334.00,218.38 334.50,220.25 335.00,221.94 335.50,223.54 336.00,225.08 336.50,226.70 337.00,228.42 337.50,229.95 338.00,231.47 338.50,233.15 339.00,234.68 339.50,235.76 340.00,236.55 340.50,236.97 341.00,237.18 341.50,237.24 342.00,237.16 342.50,237.14 343.00,237.20 343.50,237.20 344.00,237.12 344.50,237.20 345.00,237.31 345.50,237.30 346.00,237.07 346.50,236.98 347.00,237.08 347.50,237.06 348.00,237.10 348.50,237.27 349.00,237.27 349.25,237.11 349.30,237.17 349.50,237.21 350.00,237.15 350.50,237.06 351.00,236.99 351.50,236.98 352.00,236.75 352.50,236.47 353.00,236.44 353.50,236.33 354.00,235.92 354.50,235.45 355.00,235.06 355.50,234.62 356.00,234.17 356.50,233.93 357.00,233.59 357.50,233.26 358.00,233.04 358.50,232.91 359.00,233.04 359.50,233.10 360.00,233.25 360.50,233.66 361.00,234.10 361.50,234.64 362.00,235.10 362.50,235.33 363.00,235.66 363.50,236.02 364.00,236.27 364.50,236.67 365.00,236.83 365.50,236.86 366.00,236.98 366.50,237.08 367.00,237.19 367.50,237.18 368.00,237.17 368.50,237.25 369.00,237.20 369.50,237.10 370.00,237.09 370.50,237.21 371.00,237.26 371.50,237.12 372.00,237.11 372.50,237.32 373.00,237.34 373.50,237.24 374.00,237.28 374.50,237.23 375.00,237.16 375.50,237.14 376.00,237.16 376.50,237.05 377.00,237.22 377.50,237.41 378.00,237.26 378.50,237.19 379.00,237.14 379.10,237.21 379.15,237.25 379.50,237.22 380.00,237.15 380.50,237.14 381.00,237.34 381.50,237.30 382.00,237.23 382.50,237.25 383.00,237.27 383.50,237.33 384.00,237.27 384.50,237.17 385.00,237.18 385.50,237.22 386.00,237.17 386.50,237.19 387.00,237.25 387.50,237.17 388.00,237.14 388.50,237.37 389.00,237.42 389.50,237.25 390.00,237.36 390.50,237.32 391.00,237.02 391.50,236.94 392.00,236.99 392.50,237.12 393.00,237.27 393.50,237.13 394.00,237.14 394.50,237.19 395.00,237.14 395.50,237.24 396.00,237.25 396.50,237.23 397.00,237.21 397.50,237.14 398.00,237.15 398.50,237.28 399.00,237.31 399.50,237.41 400.00,237.42 400.50,237.31 401.00,237.34 401.50,237.31 402.00,237.14 402.50,236.99 403.00,237.14 403.50,237.31 404.00,237.28 404.50,237.23 405.00,237.20 405.50,237.33 406.00,237.33 406.50,237.15 407.00,237.11 407.50,237.26 408.00,237.22 408.50,236.98 409.00,236.91 409.50,236.98 410.00,237.17 410.50,237.25 411.00,237.16 411.50,237.08 412.00,237.12 412.50,237.18 413.00,237.16 413.50,237.15 414.00,237.14 414.50,237.26 415.00,237.17 415.50,237.07 416.00,237.15 416.50,237.18 417.00,237.23 417.50,237.21 418.00,237.25 418.50,237.24 419.00,237.27 419.50,237.18 420.00,237.17 420.50,237.24 421.00,237.21 421.50,237.32 422.00,237.36 422.50,237.39 423.00,237.18 423.50,237.01 424.00,237.20 424.50,237.19 425.00,237.12 425.50,237.29 426.00,237.35 426.50,237.19 427.00,237.17 427.50,237.27 428.00,237.24 428.50,237.20 429.00,237.20 429.50,237.12 430.00,237.12 430.50,237.15 431.00,237.17 431.50,237.25 432.00,237.17 432.50,237.18 433.00,237.26 433.50,237.22 434.00,237.24 434.50,237.22 435.00,237.16 435.50,237.19 436.00,237.20 436.50,237.26 437.00,237.11 437.50,237.02 438.00,237.02 438.50,236.99 439.00,237.09 439.50,237.07 440.00,237.04 440.50,236.98 441.00,236.66 441.50,236.46 442.00,236.60 442.50,236.65 443.00,236.45 443.50,236.18 444.00,236.25 444.50,236.20 445.00,236.10 445.50,236.28 446.00,236.36 446.50,236.40 447.00,236.48 447.50,236.73 448.00,236.84 448.50,236.79 449.00,236.90 449.50,237.05 450.00,237.09 450.50,237.07 451.00,237.14 451.50,237.19 452.00,237.10 452.50,237.12 453.00,237.20 453.50,237.19 454.00,237.09 454.50,237.04 455.00,237.17 455.50,237.27 456.00,237.27 456.50,237.22 457.00,237.24 457.50,237.29 458.00,237.36 458.50,237.33 459.00,237.19 459.50,237.19 460.00,237.11 460.50,237.08 461.00,237.17 461.50,237.17 462.00,237.22 462.50,237.23 463.00,237.11 463.50,237.09 464.00,237.13 464.50,237.15 465.00,237.22 465.50,237.16 466.00,237.18 466.50,237.32 467.00,237.26 467.50,237.23 468.00,237.15 468.50,237.08 469.00,237.22 469.50,237.15 470.00,237.06 470.50,237.12 471.00,237.21 471.50,237.34 472.00,237.23 472.50,237.17 473.00,237.05 473.50,237.09 474.00,237.27 474.50,237.30 475.00,237.14 475.50,237.08 476.00,237.20 476.50,237.02 477.00,237.00 477.50,237.15 478.00,237.24 478.10,237.26 478.20,237.18 478.50,237.20 479.00,237.22 479.50,237.15 480.00,237.10 480.50,237.15 481.00,237.22 481.50,237.32 482.00,237.28 482.50,237.27 483.00,237.32 483.50,237.29 484.00,237.22 484.50,237.09 485.00,237.13 485.50,237.23 486.00,237.26 486.50,237.26 487.00,237.26 487.50,237.28 488.00,237.27 488.50,237.18 489.00,237.20 489.50,237.24 490.00,237.31 490.50,237.29 491.00,237.20 491.50,237.19 492.00,237.25 492.50,237.31 493.00,237.28 493.50,237.14 494.00,237.00 494.50,237.06 495.00,237.16 495.10,237.23 495.50,237.04 496.00,236.87 496.50,236.80 497.00,236.65 497.50,236.63 498.00,236.63 498.50,236.49 499.00,236.28 499.50,236.21 500.00,236.28 500.50,236.42 501.00,236.27 501.50,236.17 502.00,236.32 502.50,236.51 503.00,236.68 503.50,236.82 504.00,236.84 504.50,236.85 505.00,236.96 505.50,236.96 506.00,237.03 506.50,237.06 507.00,237.22 507.50,237.33 508.00,237.15 508.50,237.10 509.00,237.26 509.50,237.27 510.00,237.21 510.50,237.28 511.00,237.30 511.50,237.30 512.00,237.23 512.40,237.15 512.50,237.06 513.00,237.09 513.50,237.21 514.00,237.19 514.50,237.17 515.00,237.12 515.50,237.26 516.00,237.30 516.50,237.11 517.00,237.10 517.50,237.15 518.00,237.23 518.50,237.10 519.00,237.09 519.50,237.19 520.00,237.15 520.50,237.25 521.00,237.31 521.50,237.21 522.00,237.15 522.50,237.31 523.00,237.39 523.50,237.33 524.00,237.25 524.50,237.26 525.00,237.28 525.50,237.19 526.00,237.11 526.50,237.17 527.00,237.25 527.50,237.30 528.00,237.24 528.50,237.26 529.00,237.26 529.50,237.25 530.00,237.31 530.50,237.20 531.00,237.11 531.50,237.14 532.00,237.18 532.50,237.24 533.00,237.22 533.50,237.07 534.00,237.11 534.50,237.31 535.00,237.41 535.50,237.26"/><polyline fill="none" stroke="#ff0000" stroke-width="1.3" stroke-linejoin="round" points="313.00,284.48 313.50,284.48 314.00,284.48 314.50,284.48 315.00,284.48 315.50,284.48 316.00,284.48 316.50,284.48 317.00,284.47 317.50,284.47 318.00,284.47 318.50,284.47 319.00,284.46 319.50,284.46 320.00,284.45 320.50,284.45 321.00,284.44 321.50,284.44 322.00,284.43 322.50,284.42 323.00,284.40 323.50,284.39 324.00,284.36 324.50,284.33 325.00,284.29 325.50,284.23 326.00,284.14 326.50,284.00 327.00,283.76 327.50,283.29 328.00,282.18 328.50,277.37 329.00,255.75 329.20,249.20 329.50,261.45 330.00,279.13 330.50,282.50 331.00,283.42 331.50,283.82 332.00,284.04 332.50,284.16 333.00,284.24 333.50,284.30 334.00,284.34 334.50,284.36 335.00,284.39 335.50,284.40 336.00,284.41 336.50,284.42 337.00,284.43 337.50,284.44 338.00,284.44 338.50,284.45 339.00,284.45 339.50,284.46 340.00,284.46 340.50,284.46 341.00,284.46 341.50,284.46 342.00,284.46 342.50,284.46 343.00,284.46 343.50,284.46 344.00,284.46 344.50,284.46 345.00,284.46 345.50,284.46 346.00,284.46 346.50,284.46 347.00,284.45 347.50,284.45 348.00,284.44 348.50,284.43 349.00,284.43 349.25,284.42 349.30,284.42 349.50,284.41 350.00,284.40 350.50,284.38 351.00,284.35 351.50,284.30 352.00,284.24 352.50,284.13 353.00,283.93 353.50,283.52 354.00,282.37 354.50,276.12 355.00,261.99 355.50,276.12 356.00,282.37 356.50,283.52 357.00,283.93 357.50,284.13 358.00,284.24 358.50,284.31 359.00,284.35 359.50,284.38 360.00,284.40 360.50,284.42 361.00,284.43 361.50,284.44 362.00,284.45 362.50,284.45 363.00,284.46 363.50,284.46 364.00,284.47 364.50,284.47 365.00,284.47 365.50,284.48 366.00,284.48 366.50,284.48 367.00,284.48 367.50,284.48 368.00,284.48 368.50,284.48 369.00,284.49 369.50,284.49 370.00,284.49 370.50,284.49 371.00,284.49 371.50,284.49 372.00,284.49 372.50,284.49 373.00,284.49 373.50,284.49 374.00,284.49 374.50,284.49 375.00,284.49 375.50,284.49 376.00,284.49 376.50,284.49 377.00,284.49 377.50,284.49 378.00,284.49 378.50,284.49 379.00,284.49 379.10,284.49 379.15,284.49 379.50,284.49 380.00,284.49 380.50,284.49 381.00,284.49 381.50,284.49 382.00,284.49 382.50,284.50 383.00,284.50 383.50,284.50 384.00,284.50 384.50,284.50 385.00,284.50 385.50,284.50 386.00,284.50 386.50,284.50 387.00,284.50 387.50,284.50 388.00,284.50 388.50,284.50 389.00,284.50 389.50,284.50 390.00,284.50 390.50,284.50 391.00,284.50 391.50,284.50 392.00,284.50 392.50,284.50 393.00,284.50 393.50,284.50 394.00,284.50 394.50,284.50 395.00,284.50 395.50,284.50 396.00,284.50 396.50,284.50 397.00,284.50 397.50,284.50 398.00,284.50 398.50,284.50 399.00,284.50 399.50,284.50 400.00,284.50 400.50,284.50 401.00,284.50 401.50,284.50 402.00,284.50 402.50,284.50 403.00,284.50 403.50,284.50 404.00,284.50 404.50,284.50 405.00,284.50 405.50,284.50 406.00,284.50 406.50,284.50 407.00,284.50 407.50,284.50 408.00,284.50 408.50,284.50 409.00,284.50 409.50,284.50 410.00,284.50 410.50,284.50 411.00,284.50 411.50,284.50 412.00,284.50 412.50,284.50 413.00,284.50 413.50,284.50 414.00,284.50 414.50,284.50 415.00,284.50 415.50,284.50 416.00,284.50 416.50,284.50 417.00,284.50 417.50,284.50 418.00,284.50 418.50,284.50 419.00,284.50 419.50,284.50 420.00,284.50 420.50,284.49 421.00,284.49 421.50,284.49 422.00,284.49 422.50,284.49 423.00,284.49 423.50,284.49 424.00,284.49 424.50,284.49 425.00,284.49 425.50,284.49 426.00,284.49 426.50,284.49 427.00,284.49 427.50,284.49 428.00,284.49 428.50,284.49 429.00,284.49 429.50,284.49 430.00,284.48 430.50,284.48 431.00,284.48 431.50,284.48 432.00,284.48 432.50,284.47 433.00,284.47 433.50,284.46 434.00,284.46 434.50,284.45 435.00,284.44 435.50,284.43 436.00,284.41 436.50,284.38 437.00,284.34 437.50,284.27 438.00,284.15 438.50,283.89 439.00,283.18 439.50,279.29 440.00,270.50 440.50,279.29 441.00,283.18 441.50,283.89 442.00,284.15 442.50,284.27 443.00,284.34 443.50,284.38 444.00,284.41 444.50,284.43 445.00,284.44 445.50,284.45 446.00,284.46 446.50,284.46 447.00,284.47 447.50,284.47 448.00,284.48 448.50,284.48 449.00,284.48 449.50,284.48 450.00,284.48 450.50,284.49 451.00,284.49 451.50,284.49 452.00,284.49 452.50,284.49 453.00,284.49 453.50,284.49 454.00,284.49 454.50,284.49 455.00,284.49 455.50,284.49 456.00,284.49 456.50,284.49 457.00,284.49 457.50,284.49 458.00,284.49 458.50,284.49 459.00,284.49 459.50,284.49 460.00,284.49 460.50,284.49 461.00,284.49 461.50,284.50 462.00,284.50 462.50,284.50 463.00,284.50 463.50,284.50 464.00,284.50 464.50,284.50 465.00,284.50 465.50,284.50 466.00,284.50 466.50,284.50 467.00,284.50 467.50,284.50 468.00,284.50 468.50,284.50 469.00,284.50 469.50,284.50 470.00,284.50 470.50,284.50 471.00,284.50 471.50,284.50 472.00,284.50 472.50,284.50 473.00,284.50 473.50,284.50 474.00,284.50 474.50,284.49 475.00,284.49 475.50,284.49 476.00,284.49 476.50,284.49 477.00,284.49 477.50,284.49 478.00,284.49 478.10,284.49 478.20,284.49 478.50,284.49 479.00,284.49 479.50,284.49 480.00,284.49 480.50,284.49 481.00,284.49 481.50,284.49 482.00,284.49 482.50,284.49 483.00,284.49 483.50,284.49 484.00,284.49 484.50,284.49 485.00,284.49 485.50,284.48 486.00,284.48 486.50,284.48 487.00,284.48 487.50,284.48 488.00,284.47 488.50,284.47 489.00,284.46 489.50,284.46 490.00,284.45 490.50,284.44 491.00,284.42 491.50,284.40 492.00,284.36 492.50,284.31 493.00,284.21 493.50,284.01 494.00,283.51 494.50,281.02 495.00,272.47 495.10,271.80 495.50,278.15 496.00,283.00 496.50,283.87 497.00,284.15 497.50,284.27 498.00,284.34 498.50,284.38 499.00,284.41 499.50,284.43 500.00,284.44 500.50,284.45 501.00,284.46 501.50,284.46 502.00,284.47 502.50,284.47 503.00,284.47 503.50,284.47 504.00,284.47 504.50,284.47 505.00,284.47 505.50,284.47 506.00,284.47 506.50,284.47 507.00,284.47 507.50,284.47 508.00,284.46 508.50,284.45 509.00,284.44 509.50,284.42 510.00,284.39 510.50,284.33 511.00,284.20 511.50,283.80 512.00,281.54 512.40,278.60 512.50,278.91 513.00,282.88 513.50,284.04 514.00,284.27 514.50,284.36 515.00,284.41 515.50,284.43 516.00,284.45 516.50,284.46 517.00,284.47 517.50,284.47 518.00,284.48 518.50,284.48 519.00,284.48 519.50,284.49 520.00,284.49 520.50,284.49 521.00,284.49 521.50,284.49 522.00,284.49 522.50,284.49 523.00,284.49 523.50,284.49 524.00,284.49 524.50,284.49 525.00,284.49 525.50,284.49 526.00,284.49 526.50,284.50 527.00,284.50 527.50,284.50 528.00,284.50 528.50,284.50 529.00,284.50 529.50,284.50 530.00,284.50 530.50,284.50 531.00,284.50 531.50,284.50 532.00,284.50 532.50,284.50 533.00,284.50 533.50,284.50 534.00,284.50 534.50,284.50 535.00,284.50 535.50,284.50"/><rect x="310.8" y="12.0" width="226.90000000000003" height="275.1" fill="none" stroke="#000" stroke-width="1.4"/><line x1="332.30" y1="287.1" x2="332.30" y2="294.1" stroke="#000" stroke-width="1.4"/><line x1="373.00" y1="287.1" x2="373.00" y2="294.1" stroke="#000" stroke-width="1.4"/><line x1="413.70" y1="287.1" x2="413.70" y2="294.1" stroke="#000" stroke-width="1.4"/><line x1="454.40" y1="287.1" x2="454.40" y2="294.1" stroke="#000" stroke-width="1.4"/><line x1="495.10" y1="287.1" x2="495.10" y2="294.1" stroke="#000" stroke-width="1.4"/><line x1="535.80" y1="287.1" x2="535.80" y2="294.1" stroke="#000" stroke-width="1.4"/><text x="32.47" y="25.60" font-size="14.99" style="stroke-width:0.45px">(a) Pt 4f XPS</text><text x="204.40" y="29.20" font-size="13.96" style="stroke-width:0.45px">Pt 4f</text><text x="234.79" y="33.10" font-size="9.83" style="stroke-width:0.4px">7/2</text><text x="205.16" y="57.00" font-size="14.02" style="stroke-width:0.45px">Pt 4f</text><text x="235.22" y="60.90" font-size="9.86" style="stroke-width:0.4px">5/2</text><text x="29.42" y="153.90" font-size="15.03" style="stroke-width:0.45px">Laser treated</text><text x="29.87" y="172.40" font-size="15.03" style="stroke-width:0.45px">SAC</text><text x="28.66" y="259.60" font-size="14.95" style="stroke-width:0.45px">Commercial</text><text x="28.86" y="278.00" font-size="14.91" style="stroke-width:0.45px">Pt-C</text><text x="84.59" y="323.70" font-size="14.86" style="stroke-width:0.45px">Binding Energy (eV)</text><text x="316.42" y="29.20" font-size="14.74" style="stroke-width:0.45px">(b) XRD</text><text x="412.14" y="103.40" font-size="14.98" style="stroke-width:0.45px">Laser treated SAC</text><text x="492.99" y="180.50" font-size="15.20" style="stroke-width:0.45px">ZIF 67</text><text x="422.89" y="224.10" font-size="14.97" style="stroke-width:0.45px">Commercial Pt-C</text><text x="446.88" y="263.70" font-size="14.96" style="stroke-width:0.45px">Calculated Pt</text><text x="424.23" y="323.90" font-size="15.28" style="stroke-width:0.45px">2θ</text><text x="79.79" y="305.70" font-size="15.00" style="stroke-width:0.45px">80</text><text x="149.91" y="305.70" font-size="15.00" style="stroke-width:0.45px">75</text><text x="220.23" y="305.70" font-size="15.00" style="stroke-width:0.45px">70</text><text x="323.88" y="306.50" font-size="15.00" style="stroke-width:0.45px">40</text><text x="364.43" y="306.50" font-size="15.00" style="stroke-width:0.45px">50</text><text x="405.08" y="306.50" font-size="15.00" style="stroke-width:0.45px">60</text><text x="445.85" y="306.50" font-size="15.00" style="stroke-width:0.45px">70</text><text x="486.53" y="306.50" font-size="15.00" style="stroke-width:0.45px">80</text><text x="527.20" y="306.50" font-size="15.00" style="stroke-width:0.45px">90</text><text transform="translate(20.40,257.19) rotate(-90)" font-size="14.94">Normalised Intensity (arb. units)</text><text transform="translate(304.50,219.53) rotate(-90)" font-size="14.92">Intensity (arb. units)</text></svg></body></html>
